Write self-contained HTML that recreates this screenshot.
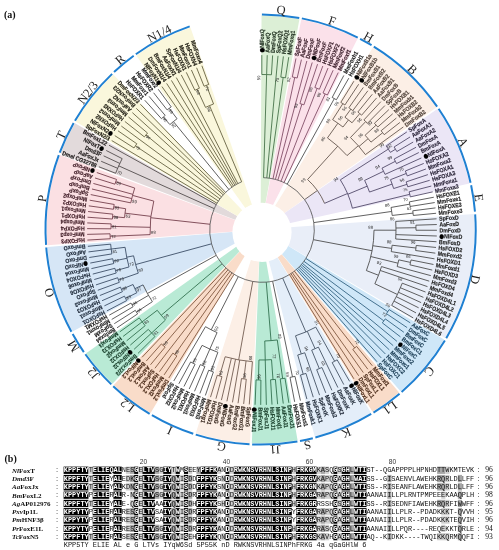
<!DOCTYPE html>
<html><head><meta charset="utf-8"><style>
html,body{margin:0;padding:0;background:#fff;}
body{width:499px;height:550px;overflow:hidden;}
svg{display:block;}
.lab text{font-family:"Liberation Sans",sans-serif;font-size:6.0px;font-weight:bold;stroke-width:0.16px;}
.cl{font-family:"Liberation Serif",serif;font-size:12.5px;fill:#222;}
.dot{font-size:1.05em;font-family:"DejaVu Sans",sans-serif;fill:#000;stroke:#000;}
.pl{font-family:"Liberation Serif",serif;font-size:10px;font-weight:bold;fill:#111;}
.seq{font-family:"Liberation Mono",monospace;font-size:6.9px;font-weight:bold;}
.sq2{font-family:"Liberation Serif",serif;font-size:7.6px;fill:#111;}
.cons{font-family:"Liberation Mono",monospace;font-size:6.9px;fill:#111;}
.nm{font-family:"Liberation Serif",serif;font-size:7.0px;font-weight:bold;fill:#111;}
.ruler{font-family:"Liberation Sans",sans-serif;font-size:6.6px;fill:#333;}
.bs{font-family:"Liberation Sans",sans-serif;font-size:4.2px;fill:#222;}
</style></head><body>
<svg width="499" height="550" viewBox="0 0 499 550">
<rect width="499" height="550" fill="#fff"/>
<g class="tree">
<path d="M261.53,15.60 A213.9,213.9 0 0 1 299.40,19.15 L265.32,203.93 A26.0,26.0 0 0 0 260.71,203.50 Z" fill="#dcefd6"/>
<path d="M301.23,19.49 A213.9,213.9 0 0 1 357.54,38.83 L272.38,206.32 A26.0,26.0 0 0 0 265.54,203.97 Z" fill="#fbe1ea"/>
<path d="M372.84,47.41 A213.9,213.9 0 0 1 436.35,107.58 L281.96,214.68 A26.0,26.0 0 0 0 274.24,207.37 Z" fill="#fcefe6"/>
<path d="M437.41,109.12 A213.9,213.9 0 0 1 469.47,183.39 L285.99,223.89 A26.0,26.0 0 0 0 282.09,214.87 Z" fill="#ebe6f6"/>
<path d="M473.94,214.02 A213.9,213.9 0 0 1 445.00,337.90 L283.01,242.68 A26.0,26.0 0 0 0 286.53,227.62 Z" fill="#e9eef8"/>
<path d="M444.04,339.51 A213.9,213.9 0 0 1 400.51,391.30 L277.61,249.17 A26.0,26.0 0 0 0 282.90,242.87 Z" fill="#cfe7f8"/>
<path d="M399.09,392.51 A213.9,213.9 0 0 1 372.52,411.78 L274.20,251.66 A26.0,26.0 0 0 0 277.43,249.31 Z" fill="#f9dcc9"/>
<path d="M370.93,412.75 A213.9,213.9 0 0 1 314.70,436.45 L267.18,254.65 A26.0,26.0 0 0 0 274.01,251.77 Z" fill="#e4eef9"/>
<path d="M297.56,440.18 A213.9,213.9 0 0 1 251.83,443.22 L259.53,255.48 A26.0,26.0 0 0 0 265.09,255.11 Z" fill="#b9ead5"/>
<path d="M249.96,443.14 A213.9,213.9 0 0 1 195.75,433.33 L252.72,254.28 A26.0,26.0 0 0 0 259.31,255.47 Z" fill="#fcefe6"/>
<path d="M150.59,412.94 A213.9,213.9 0 0 1 113.77,385.04 L242.75,248.41 A26.0,26.0 0 0 0 247.23,251.80 Z" fill="#f9dcc9"/>
<path d="M112.42,383.76 A213.9,213.9 0 0 1 86.14,353.26 L239.39,244.54 A26.0,26.0 0 0 0 242.59,248.25 Z" fill="#b9ead5"/>
<path d="M72.62,331.56 A213.9,213.9 0 0 1 47.42,247.03 L234.69,231.63 A26.0,26.0 0 0 0 237.75,241.91 Z" fill="#d6e6f6"/>
<path d="M47.27,245.17 A213.9,213.9 0 0 1 60.05,155.12 L236.22,220.46 A26.0,26.0 0 0 0 234.67,231.40 Z" fill="#fbe0e3"/>
<path d="M60.71,153.37 A213.9,213.9 0 0 1 74.89,123.36 L238.03,216.60 A26.0,26.0 0 0 0 236.30,220.25 Z" fill="#e2dadb"/>
<path d="M75.83,121.74 A213.9,213.9 0 0 1 113.23,74.47 L242.69,210.66 A26.0,26.0 0 0 0 238.14,216.40 Z" fill="#faf7dc"/>
<path d="M136.24,55.47 A213.9,213.9 0 0 1 190.43,27.44 L252.07,204.94 A26.0,26.0 0 0 0 245.48,208.35 Z" fill="#faf7dc"/>
<circle cx="262" cy="232.3" r="29.6" fill="#fff"/>
<path d="M263.56,177.72 A52.3,52.3 0 0 1 266.79,177.92" fill="none" stroke="#555" stroke-width="0.85"/>
<path d="M266.79,177.92 A52.3,52.3 0 0 1 269.19,178.20" fill="none" stroke="#555" stroke-width="0.85"/>
<path d="M269.19,178.20 A52.3,52.3 0 0 1 272.98,178.86" fill="none" stroke="#555" stroke-width="0.85"/>
<path d="M272.98,178.86 A52.3,52.3 0 0 1 275.41,179.45" fill="none" stroke="#555" stroke-width="0.85"/>
<path d="M275.41,179.45 A52.3,52.3 0 0 1 277.82,180.15" fill="none" stroke="#555" stroke-width="0.85"/>
<path d="M277.82,180.15 A52.3,52.3 0 0 1 280.97,181.26" fill="none" stroke="#555" stroke-width="0.85"/>
<path d="M280.97,181.26 A52.3,52.3 0 0 1 284.04,182.57" fill="none" stroke="#555" stroke-width="0.85"/>
<path d="M284.04,182.57 A52.3,52.3 0 0 1 287.22,184.18" fill="none" stroke="#555" stroke-width="0.85"/>
<path d="M287.22,184.18 A52.3,52.3 0 0 1 304.58,199.63" fill="none" stroke="#555" stroke-width="0.85"/>
<path d="M304.58,199.63 A52.3,52.3 0 0 1 313.77,222.59" fill="none" stroke="#555" stroke-width="0.85"/>
<path d="M313.77,222.59 A52.3,52.3 0 0 1 313.40,239.68" fill="none" stroke="#555" stroke-width="0.85"/>
<path d="M313.40,239.68 A52.3,52.3 0 0 1 305.87,258.47" fill="none" stroke="#555" stroke-width="0.85"/>
<path d="M305.87,258.47 A52.3,52.3 0 0 1 303.92,261.27" fill="none" stroke="#555" stroke-width="0.85"/>
<path d="M303.92,261.27 A52.3,52.3 0 0 1 302.34,263.29" fill="none" stroke="#555" stroke-width="0.85"/>
<path d="M302.34,263.29 A52.3,52.3 0 0 1 301.23,264.59" fill="none" stroke="#555" stroke-width="0.85"/>
<path d="M301.23,264.59 A52.3,52.3 0 0 1 300.08,265.85" fill="none" stroke="#555" stroke-width="0.85"/>
<path d="M300.08,265.85 A52.3,52.3 0 0 1 298.89,267.07" fill="none" stroke="#555" stroke-width="0.85"/>
<path d="M298.89,267.07 A52.3,52.3 0 0 1 297.66,268.26" fill="none" stroke="#555" stroke-width="0.85"/>
<path d="M297.66,268.26 A52.3,52.3 0 0 1 296.39,269.40" fill="none" stroke="#555" stroke-width="0.85"/>
<path d="M296.39,269.40 A52.3,52.3 0 0 1 294.32,271.11" fill="none" stroke="#555" stroke-width="0.85"/>
<path d="M294.32,271.11 A52.3,52.3 0 0 1 292.30,272.63" fill="none" stroke="#555" stroke-width="0.85"/>
<path d="M292.30,272.63 A52.3,52.3 0 0 1 290.90,273.59" fill="none" stroke="#555" stroke-width="0.85"/>
<path d="M290.90,273.59 A52.3,52.3 0 0 1 289.48,274.50" fill="none" stroke="#555" stroke-width="0.85"/>
<path d="M289.48,274.50 A52.3,52.3 0 0 1 282.67,278.04" fill="none" stroke="#555" stroke-width="0.85"/>
<path d="M282.67,278.04 A52.3,52.3 0 0 1 272.63,281.21" fill="none" stroke="#555" stroke-width="0.85"/>
<path d="M272.63,281.21 A52.3,52.3 0 0 1 266.26,282.13" fill="none" stroke="#555" stroke-width="0.85"/>
<path d="M266.26,282.13 A52.3,52.3 0 0 1 252.75,281.48" fill="none" stroke="#555" stroke-width="0.85"/>
<path d="M252.75,281.48 A52.3,52.3 0 0 1 238.28,276.61" fill="none" stroke="#555" stroke-width="0.85"/>
<path d="M238.28,276.61 A52.3,52.3 0 0 1 234.13,274.26" fill="none" stroke="#555" stroke-width="0.85"/>
<path d="M234.13,274.26 A52.3,52.3 0 0 1 232.02,272.85" fill="none" stroke="#555" stroke-width="0.85"/>
<path d="M232.02,272.85 A52.3,52.3 0 0 1 229.98,271.35" fill="none" stroke="#555" stroke-width="0.85"/>
<path d="M229.98,271.35 A52.3,52.3 0 0 1 228.02,269.75" fill="none" stroke="#555" stroke-width="0.85"/>
<path d="M228.02,269.75 A52.3,52.3 0 0 1 226.13,268.06" fill="none" stroke="#555" stroke-width="0.85"/>
<path d="M226.13,268.06 A52.3,52.3 0 0 1 222.07,263.78" fill="none" stroke="#555" stroke-width="0.85"/>
<path d="M222.07,263.78 A52.3,52.3 0 0 1 216.25,255.34" fill="none" stroke="#555" stroke-width="0.85"/>
<path d="M216.25,255.34 A52.3,52.3 0 0 1 211.55,243.80" fill="none" stroke="#555" stroke-width="0.85"/>
<path d="M211.55,243.80 A52.3,52.3 0 0 1 210.02,224.26" fill="none" stroke="#555" stroke-width="0.85"/>
<path d="M210.02,224.26 A52.3,52.3 0 0 1 214.26,208.63" fill="none" stroke="#555" stroke-width="0.85"/>
<path d="M214.26,208.63 A52.3,52.3 0 0 1 216.25,204.65" fill="none" stroke="#555" stroke-width="0.85"/>
<path d="M216.25,204.65 A52.3,52.3 0 0 1 217.06,203.25" fill="none" stroke="#555" stroke-width="0.85"/>
<path d="M217.06,203.25 A52.3,52.3 0 0 1 218.44,201.05" fill="none" stroke="#555" stroke-width="0.85"/>
<path d="M218.44,201.05 A52.3,52.3 0 0 1 219.94,198.92" fill="none" stroke="#555" stroke-width="0.85"/>
<path d="M219.94,198.92 A52.3,52.3 0 0 1 221.53,196.87" fill="none" stroke="#555" stroke-width="0.85"/>
<path d="M221.53,196.87 A52.3,52.3 0 0 1 223.23,194.90" fill="none" stroke="#555" stroke-width="0.85"/>
<path d="M223.23,194.90 A52.3,52.3 0 0 1 224.42,193.63" fill="none" stroke="#555" stroke-width="0.85"/>
<path d="M224.42,193.63 A52.3,52.3 0 0 1 225.64,192.40" fill="none" stroke="#555" stroke-width="0.85"/>
<path d="M225.64,192.40 A52.3,52.3 0 0 1 228.91,189.50" fill="none" stroke="#555" stroke-width="0.85"/>
<path d="M228.91,189.50 A52.3,52.3 0 0 1 232.08,187.11" fill="none" stroke="#555" stroke-width="0.85"/>
<path d="M232.08,187.11 A52.3,52.3 0 0 1 233.48,186.16" fill="none" stroke="#555" stroke-width="0.85"/>
<path d="M233.48,186.16 A52.3,52.3 0 0 1 234.91,185.26" fill="none" stroke="#555" stroke-width="0.85"/>
<path d="M234.91,185.26 A52.3,52.3 0 0 1 236.37,184.41" fill="none" stroke="#555" stroke-width="0.85"/>
<path d="M236.37,184.41 A52.3,52.3 0 0 1 237.85,183.61" fill="none" stroke="#555" stroke-width="0.85"/>
<path d="M237.85,183.61 A52.3,52.3 0 0 1 241.67,181.81" fill="none" stroke="#555" stroke-width="0.85"/>
<line x1="263.56" y1="177.72" x2="266.64" y2="74.57" stroke="#3f6b42" stroke-width="0.85"/>
<path d="M261.84,74.50 A155.5,155.5 0 0 1 271.44,74.79" fill="none" stroke="#3f6b42" stroke-width="0.85"/>
<line x1="261.84" y1="74.50" x2="261.82" y2="55.10" stroke="#3f6b42" stroke-width="0.85"/>
<line x1="266.64" y1="74.57" x2="267.22" y2="55.18" stroke="#3f6b42" stroke-width="0.85"/>
<line x1="271.44" y1="74.79" x2="272.62" y2="55.42" stroke="#3f6b42" stroke-width="0.85"/>
<line x1="266.79" y1="177.92" x2="278.00" y2="55.83" stroke="#3f6b42" stroke-width="0.85"/>
<line x1="269.19" y1="178.20" x2="283.18" y2="77.46" stroke="#3f6b42" stroke-width="0.85"/>
<path d="M280.82,77.15 A154,154 0 0 1 285.53,77.81" fill="none" stroke="#3f6b42" stroke-width="0.85"/>
<line x1="280.82" y1="77.15" x2="283.38" y2="56.41" stroke="#3f6b42" stroke-width="0.85"/>
<line x1="285.53" y1="77.81" x2="288.73" y2="57.15" stroke="#3f6b42" stroke-width="0.85"/>
<line x1="272.98" y1="178.86" x2="294.74" y2="77.47" stroke="#7b4660" stroke-width="0.85"/>
<path d="M292.30,76.97 A156,156 0 0 1 297.17,78.02" fill="none" stroke="#7b4660" stroke-width="0.85"/>
<line x1="292.30" y1="76.97" x2="295.97" y2="58.43" stroke="#7b4660" stroke-width="0.85"/>
<line x1="297.17" y1="78.02" x2="301.43" y2="59.60" stroke="#7b4660" stroke-width="0.85"/>
<line x1="275.41" y1="179.45" x2="306.85" y2="60.95" stroke="#7b4660" stroke-width="0.85"/>
<line x1="277.82" y1="180.15" x2="301.92" y2="104.18" stroke="#7b4660" stroke-width="0.85"/>
<path d="M299.91,103.56 A132,132 0 0 1 303.93,104.84" fill="none" stroke="#7b4660" stroke-width="0.85"/>
<line x1="299.91" y1="103.56" x2="312.23" y2="62.47" stroke="#7b4660" stroke-width="0.85"/>
<line x1="303.93" y1="104.84" x2="317.55" y2="64.16" stroke="#7b4660" stroke-width="0.85"/>
<line x1="280.97" y1="181.26" x2="317.13" y2="88.35" stroke="#7b4660" stroke-width="0.85"/>
<path d="M314.86,87.49 A152,152 0 0 1 319.38,89.25" fill="none" stroke="#7b4660" stroke-width="0.85"/>
<line x1="314.86" y1="87.49" x2="322.82" y2="66.02" stroke="#7b4660" stroke-width="0.85"/>
<line x1="319.38" y1="89.25" x2="328.03" y2="68.04" stroke="#7b4660" stroke-width="0.85"/>
<line x1="284.04" y1="182.57" x2="325.21" y2="93.97" stroke="#7b4660" stroke-width="0.85"/>
<path d="M323.03,92.98 A150,150 0 0 1 327.38,95.00" fill="none" stroke="#7b4660" stroke-width="0.85"/>
<line x1="323.03" y1="92.98" x2="333.17" y2="70.23" stroke="#7b4660" stroke-width="0.85"/>
<line x1="327.38" y1="95.00" x2="338.23" y2="72.59" stroke="#7b4660" stroke-width="0.85"/>
<line x1="287.22" y1="184.18" x2="334.32" y2="98.59" stroke="#444" stroke-width="0.85"/>
<path d="M332.19,97.44 A150,150 0 0 1 336.43,99.77" fill="none" stroke="#444" stroke-width="0.85"/>
<line x1="332.19" y1="97.44" x2="343.84" y2="75.43" stroke="#444" stroke-width="0.85"/>
<line x1="336.43" y1="99.77" x2="348.79" y2="78.15" stroke="#444" stroke-width="0.85"/>
<line x1="304.58" y1="199.63" x2="317.36" y2="190.51" stroke="#5e5048" stroke-width="0.85"/>
<path d="M307.59,179.55 A68,68 0 0 1 324.55,203.32" fill="none" stroke="#5e5048" stroke-width="0.85"/>
<line x1="307.59" y1="179.55" x2="337.77" y2="146.16" stroke="#5e5048" stroke-width="0.85"/>
<path d="M327.46,137.89 A113,113 0 0 1 347.04,155.59" fill="none" stroke="#5e5048" stroke-width="0.85"/>
<line x1="327.46" y1="137.89" x2="337.89" y2="123.22" stroke="#5e5048" stroke-width="0.85"/>
<path d="M332.63,119.67 A131,131 0 0 1 342.97,127.02" fill="none" stroke="#5e5048" stroke-width="0.85"/>
<line x1="332.63" y1="119.67" x2="342.87" y2="103.67" stroke="#5e5048" stroke-width="0.85"/>
<path d="M340.82,102.38 A150,150 0 0 1 344.90,104.99" fill="none" stroke="#5e5048" stroke-width="0.85"/>
<line x1="340.82" y1="102.38" x2="353.90" y2="81.19" stroke="#5e5048" stroke-width="0.85"/>
<line x1="344.90" y1="104.99" x2="358.66" y2="84.24" stroke="#5e5048" stroke-width="0.85"/>
<line x1="342.97" y1="127.02" x2="348.53" y2="119.94" stroke="#5e5048" stroke-width="0.85"/>
<path d="M344.93,117.21 A140,140 0 0 1 352.04,122.79" fill="none" stroke="#5e5048" stroke-width="0.85"/>
<line x1="344.93" y1="117.21" x2="350.85" y2="109.15" stroke="#5e5048" stroke-width="0.85"/>
<path d="M348.89,107.73 A150,150 0 0 1 352.79,110.60" fill="none" stroke="#5e5048" stroke-width="0.85"/>
<line x1="348.89" y1="107.73" x2="363.32" y2="87.43" stroke="#5e5048" stroke-width="0.85"/>
<line x1="352.79" y1="110.60" x2="367.87" y2="90.78" stroke="#5e5048" stroke-width="0.85"/>
<line x1="352.04" y1="122.79" x2="359.75" y2="113.60" stroke="#5e5048" stroke-width="0.85"/>
<path d="M357.86,112.04 A152,152 0 0 1 361.62,115.20" fill="none" stroke="#5e5048" stroke-width="0.85"/>
<line x1="357.86" y1="112.04" x2="372.31" y2="94.27" stroke="#5e5048" stroke-width="0.85"/>
<line x1="361.62" y1="115.20" x2="376.63" y2="97.90" stroke="#5e5048" stroke-width="0.85"/>
<line x1="347.04" y1="155.59" x2="358.33" y2="145.71" stroke="#5e5048" stroke-width="0.85"/>
<path d="M350.47,137.50 A128,128 0 0 1 365.42,154.58" fill="none" stroke="#5e5048" stroke-width="0.85"/>
<line x1="350.47" y1="137.50" x2="365.68" y2="121.60" stroke="#5e5048" stroke-width="0.85"/>
<path d="M363.92,119.94 A150,150 0 0 1 367.42,123.29" fill="none" stroke="#5e5048" stroke-width="0.85"/>
<line x1="363.92" y1="119.94" x2="380.83" y2="101.67" stroke="#5e5048" stroke-width="0.85"/>
<line x1="367.42" y1="123.29" x2="384.92" y2="105.57" stroke="#5e5048" stroke-width="0.85"/>
<line x1="359.00" y1="146.49" x2="368.10" y2="138.66" stroke="#5e5048" stroke-width="0.85"/>
<path d="M365.09,135.28 A140,140 0 0 1 370.99,142.13" fill="none" stroke="#5e5048" stroke-width="0.85"/>
<line x1="365.09" y1="135.28" x2="376.14" y2="125.13" stroke="#5e5048" stroke-width="0.85"/>
<path d="M374.43,123.31 A155,155 0 0 1 377.82,126.99" fill="none" stroke="#5e5048" stroke-width="0.85"/>
<line x1="374.43" y1="123.31" x2="388.87" y2="109.61" stroke="#5e5048" stroke-width="0.85"/>
<line x1="377.82" y1="126.99" x2="392.69" y2="113.77" stroke="#5e5048" stroke-width="0.85"/>
<line x1="370.99" y1="142.13" x2="382.67" y2="132.72" stroke="#5e5048" stroke-width="0.85"/>
<path d="M381.08,130.78 A155,155 0 0 1 384.22,134.68" fill="none" stroke="#5e5048" stroke-width="0.85"/>
<line x1="381.08" y1="130.78" x2="396.37" y2="118.04" stroke="#5e5048" stroke-width="0.85"/>
<line x1="384.22" y1="134.68" x2="399.92" y2="122.44" stroke="#5e5048" stroke-width="0.85"/>
<line x1="365.42" y1="154.58" x2="403.32" y2="126.95" stroke="#5e5048" stroke-width="0.85"/>
<line x1="324.55" y1="203.32" x2="347.54" y2="193.51" stroke="#4a4262" stroke-width="0.85"/>
<path d="M340.32,179.85 A93,93 0 0 1 352.40,208.18" fill="none" stroke="#4a4262" stroke-width="0.85"/>
<line x1="340.32" y1="179.85" x2="388.32" y2="149.11" stroke="#4a4262" stroke-width="0.85"/>
<path d="M386.21,145.90 A150,150 0 0 1 390.35,152.37" fill="none" stroke="#4a4262" stroke-width="0.85"/>
<line x1="386.21" y1="145.90" x2="406.83" y2="131.94" stroke="#4a4262" stroke-width="0.85"/>
<line x1="390.35" y1="152.37" x2="395.48" y2="149.26" stroke="#4a4262" stroke-width="0.85"/>
<path d="M394.09,147.00 A156,156 0 0 1 396.84,151.55" fill="none" stroke="#4a4262" stroke-width="0.85"/>
<line x1="394.09" y1="147.00" x2="410.09" y2="136.94" stroke="#4a4262" stroke-width="0.85"/>
<line x1="396.84" y1="151.55" x2="413.18" y2="142.05" stroke="#4a4262" stroke-width="0.85"/>
<line x1="347.85" y1="194.24" x2="367.23" y2="186.16" stroke="#4a4262" stroke-width="0.85"/>
<path d="M364.64,180.40 A114,114 0 0 1 369.50,192.06" fill="none" stroke="#4a4262" stroke-width="0.85"/>
<line x1="364.64" y1="180.40" x2="383.55" y2="171.26" stroke="#4a4262" stroke-width="0.85"/>
<path d="M382.01,168.17 A135,135 0 0 1 385.02,174.39" fill="none" stroke="#4a4262" stroke-width="0.85"/>
<line x1="382.01" y1="168.17" x2="395.34" y2="161.30" stroke="#4a4262" stroke-width="0.85"/>
<path d="M394.15,159.04 A150,150 0 0 1 396.50,163.59" fill="none" stroke="#4a4262" stroke-width="0.85"/>
<line x1="394.15" y1="159.04" x2="416.09" y2="147.26" stroke="#4a4262" stroke-width="0.85"/>
<line x1="396.50" y1="163.59" x2="418.82" y2="152.56" stroke="#4a4262" stroke-width="0.85"/>
<line x1="385.02" y1="174.39" x2="421.37" y2="157.96" stroke="#4a4262" stroke-width="0.85"/>
<line x1="369.50" y1="192.06" x2="392.13" y2="184.08" stroke="#4a4262" stroke-width="0.85"/>
<path d="M390.49,179.66 A138,138 0 0 1 393.63,188.54" fill="none" stroke="#4a4262" stroke-width="0.85"/>
<line x1="390.49" y1="179.66" x2="406.32" y2="173.46" stroke="#4a4262" stroke-width="0.85"/>
<path d="M405.34,171.01 A155,155 0 0 1 407.26,175.93" fill="none" stroke="#4a4262" stroke-width="0.85"/>
<line x1="405.34" y1="171.01" x2="423.74" y2="163.44" stroke="#4a4262" stroke-width="0.85"/>
<line x1="407.26" y1="175.93" x2="425.91" y2="168.99" stroke="#4a4262" stroke-width="0.85"/>
<line x1="393.63" y1="188.54" x2="406.98" y2="184.34" stroke="#4a4262" stroke-width="0.85"/>
<path d="M406.18,181.87 A152,152 0 0 1 407.74,186.82" fill="none" stroke="#4a4262" stroke-width="0.85"/>
<line x1="406.18" y1="181.87" x2="427.90" y2="174.62" stroke="#4a4262" stroke-width="0.85"/>
<line x1="407.74" y1="186.82" x2="429.69" y2="180.31" stroke="#4a4262" stroke-width="0.85"/>
<line x1="352.40" y1="208.18" x2="409.76" y2="194.33" stroke="#4a4262" stroke-width="0.85"/>
<path d="M409.13,191.81 A152,152 0 0 1 410.34,196.86" fill="none" stroke="#4a4262" stroke-width="0.85"/>
<line x1="409.13" y1="191.81" x2="431.29" y2="186.06" stroke="#4a4262" stroke-width="0.85"/>
<line x1="410.34" y1="196.86" x2="432.69" y2="191.86" stroke="#4a4262" stroke-width="0.85"/>
<line x1="313.77" y1="222.59" x2="391.68" y2="211.44" stroke="#444" stroke-width="0.85"/>
<path d="M391.04,207.44 A131,131 0 0 1 392.19,215.45" fill="none" stroke="#444" stroke-width="0.85"/>
<line x1="391.04" y1="207.44" x2="409.76" y2="204.17" stroke="#444" stroke-width="0.85"/>
<path d="M409.34,201.89 A150,150 0 0 1 410.14,206.46" fill="none" stroke="#444" stroke-width="0.85"/>
<line x1="409.34" y1="201.89" x2="433.80" y2="197.23" stroke="#444" stroke-width="0.85"/>
<line x1="410.14" y1="206.46" x2="434.73" y2="202.55" stroke="#444" stroke-width="0.85"/>
<line x1="392.19" y1="215.45" x2="413.06" y2="213.12" stroke="#444" stroke-width="0.85"/>
<path d="M412.78,210.79 A152,152 0 0 1 413.30,215.46" fill="none" stroke="#444" stroke-width="0.85"/>
<line x1="412.78" y1="210.79" x2="435.50" y2="207.90" stroke="#444" stroke-width="0.85"/>
<line x1="413.30" y1="215.46" x2="436.10" y2="213.27" stroke="#444" stroke-width="0.85"/>
<line x1="313.40" y1="239.68" x2="372.07" y2="250.73" stroke="#444" stroke-width="0.85"/>
<path d="M374.00,230.18 A112,112 0 0 1 366.39,270.57" fill="none" stroke="#444" stroke-width="0.85"/>
<line x1="374.00" y1="230.18" x2="396.00" y2="230.21" stroke="#444" stroke-width="0.85"/>
<path d="M395.73,221.42 A134,134 0 0 1 395.70,239.00" fill="none" stroke="#444" stroke-width="0.85"/>
<line x1="395.73" y1="221.42" x2="436.54" y2="218.80" stroke="#444" stroke-width="0.85"/>
<line x1="395.99" y1="228.01" x2="415.98" y2="227.72" stroke="#444" stroke-width="0.85"/>
<path d="M415.92,225.19 A154,154 0 0 1 416.00,230.24" fill="none" stroke="#444" stroke-width="0.85"/>
<line x1="415.92" y1="225.19" x2="436.81" y2="224.54" stroke="#444" stroke-width="0.85"/>
<line x1="416.00" y1="230.24" x2="436.90" y2="230.27" stroke="#444" stroke-width="0.85"/>
<line x1="395.92" y1="234.61" x2="436.80" y2="236.01" stroke="#444" stroke-width="0.85"/>
<line x1="395.70" y1="239.00" x2="436.51" y2="241.74" stroke="#444" stroke-width="0.85"/>
<line x1="372.89" y1="245.74" x2="391.70" y2="248.41" stroke="#444" stroke-width="0.85"/>
<path d="M392.11,245.22 A131,131 0 0 1 391.21,251.60" fill="none" stroke="#444" stroke-width="0.85"/>
<line x1="392.11" y1="245.22" x2="415.95" y2="248.00" stroke="#444" stroke-width="0.85"/>
<path d="M416.23,245.48 A155,155 0 0 1 415.63,250.53" fill="none" stroke="#444" stroke-width="0.85"/>
<line x1="416.23" y1="245.48" x2="436.03" y2="247.46" stroke="#444" stroke-width="0.85"/>
<line x1="415.63" y1="250.53" x2="435.36" y2="253.16" stroke="#444" stroke-width="0.85"/>
<line x1="391.21" y1="251.60" x2="434.51" y2="258.84" stroke="#444" stroke-width="0.85"/>
<line x1="370.80" y1="256.56" x2="398.01" y2="263.20" stroke="#444" stroke-width="0.85"/>
<path d="M398.78,259.85 A140,140 0 0 1 397.15,266.54" fill="none" stroke="#444" stroke-width="0.85"/>
<line x1="398.78" y1="259.85" x2="410.51" y2="262.41" stroke="#444" stroke-width="0.85"/>
<path d="M411.02,259.97 A152,152 0 0 1 409.95,264.84" fill="none" stroke="#444" stroke-width="0.85"/>
<line x1="411.02" y1="259.97" x2="433.47" y2="264.48" stroke="#444" stroke-width="0.85"/>
<line x1="409.95" y1="264.84" x2="432.24" y2="270.09" stroke="#444" stroke-width="0.85"/>
<line x1="397.15" y1="266.54" x2="430.84" y2="275.65" stroke="#444" stroke-width="0.85"/>
<line x1="366.39" y1="270.57" x2="378.51" y2="275.28" stroke="#444" stroke-width="0.85"/>
<path d="M381.53,266.57 A125,125 0 0 1 374.85,283.75" fill="none" stroke="#444" stroke-width="0.85"/>
<line x1="381.53" y1="266.57" x2="429.25" y2="281.17" stroke="#444" stroke-width="0.85"/>
<line x1="380.27" y1="270.47" x2="427.48" y2="286.62" stroke="#444" stroke-width="0.85"/>
<line x1="374.85" y1="283.75" x2="397.42" y2="294.51" stroke="#444" stroke-width="0.85"/>
<path d="M402.25,283.19 A150,150 0 0 1 391.68,305.39" fill="none" stroke="#444" stroke-width="0.85"/>
<line x1="402.25" y1="283.19" x2="425.53" y2="292.02" stroke="#444" stroke-width="0.85"/>
<line x1="400.43" y1="287.77" x2="423.41" y2="297.35" stroke="#444" stroke-width="0.85"/>
<line x1="398.46" y1="292.28" x2="421.11" y2="302.61" stroke="#444" stroke-width="0.85"/>
<line x1="396.35" y1="296.72" x2="418.65" y2="307.79" stroke="#444" stroke-width="0.85"/>
<line x1="394.08" y1="301.09" x2="416.01" y2="312.89" stroke="#444" stroke-width="0.85"/>
<line x1="391.68" y1="305.39" x2="413.21" y2="317.90" stroke="#444" stroke-width="0.85"/>
<line x1="305.87" y1="258.47" x2="387.82" y2="311.66" stroke="#2c5c7c" stroke-width="0.85"/>
<path d="M389.14,309.60 A150,150 0 0 1 386.47,313.71" fill="none" stroke="#2c5c7c" stroke-width="0.85"/>
<line x1="389.14" y1="309.60" x2="410.24" y2="322.81" stroke="#2c5c7c" stroke-width="0.85"/>
<line x1="386.47" y1="313.71" x2="407.14" y2="327.60" stroke="#2c5c7c" stroke-width="0.85"/>
<line x1="303.92" y1="261.27" x2="383.83" y2="320.89" stroke="#2c5c7c" stroke-width="0.85"/>
<path d="M385.30,318.89 A152,152 0 0 1 382.33,322.87" fill="none" stroke="#2c5c7c" stroke-width="0.85"/>
<line x1="385.30" y1="318.89" x2="403.87" y2="332.28" stroke="#2c5c7c" stroke-width="0.85"/>
<line x1="382.33" y1="322.87" x2="400.46" y2="336.86" stroke="#2c5c7c" stroke-width="0.85"/>
<line x1="302.34" y1="263.29" x2="396.90" y2="341.32" stroke="#2c5c7c" stroke-width="0.85"/>
<line x1="301.23" y1="264.59" x2="393.19" y2="345.66" stroke="#2c5c7c" stroke-width="0.85"/>
<line x1="300.08" y1="265.85" x2="389.35" y2="349.88" stroke="#2c5c7c" stroke-width="0.85"/>
<line x1="298.89" y1="267.07" x2="385.37" y2="353.97" stroke="#2c5c7c" stroke-width="0.85"/>
<line x1="297.66" y1="268.26" x2="381.26" y2="357.93" stroke="#2c5c7c" stroke-width="0.85"/>
<line x1="296.39" y1="269.40" x2="377.02" y2="361.76" stroke="#2c5c7c" stroke-width="0.85"/>
<line x1="294.32" y1="271.11" x2="354.71" y2="347.92" stroke="#7a5038" stroke-width="0.85"/>
<path d="M356.60,346.41 A150,150 0 0 1 352.79,349.40" fill="none" stroke="#7a5038" stroke-width="0.85"/>
<line x1="356.60" y1="346.41" x2="372.31" y2="365.73" stroke="#7a5038" stroke-width="0.85"/>
<line x1="352.79" y1="349.40" x2="367.87" y2="369.22" stroke="#7a5038" stroke-width="0.85"/>
<line x1="292.30" y1="272.63" x2="363.32" y2="372.57" stroke="#7a5038" stroke-width="0.85"/>
<line x1="290.90" y1="273.59" x2="358.66" y2="375.76" stroke="#7a5038" stroke-width="0.85"/>
<line x1="289.48" y1="274.50" x2="353.90" y2="378.81" stroke="#7a5038" stroke-width="0.85"/>
<line x1="282.67" y1="278.04" x2="305.87" y2="331.96" stroke="#3c4a5c" stroke-width="0.85"/>
<path d="M315.77,327.11 A111,111 0 0 1 295.53,335.81" fill="none" stroke="#3c4a5c" stroke-width="0.85"/>
<line x1="315.77" y1="327.11" x2="334.66" y2="361.22" stroke="#3c4a5c" stroke-width="0.85"/>
<path d="M337.14,359.83 A150,150 0 0 1 332.17,362.58" fill="none" stroke="#3c4a5c" stroke-width="0.85"/>
<line x1="337.14" y1="359.83" x2="349.61" y2="381.38" stroke="#3c4a5c" stroke-width="0.85"/>
<line x1="332.17" y1="362.58" x2="343.81" y2="384.58" stroke="#3c4a5c" stroke-width="0.85"/>
<line x1="307.31" y1="331.33" x2="315.07" y2="348.68" stroke="#3c4a5c" stroke-width="0.85"/>
<path d="M318.42,347.12 A130,130 0 0 1 311.68,350.13" fill="none" stroke="#3c4a5c" stroke-width="0.85"/>
<line x1="318.42" y1="347.12" x2="337.90" y2="387.57" stroke="#3c4a5c" stroke-width="0.85"/>
<line x1="311.68" y1="350.13" x2="319.32" y2="368.62" stroke="#3c4a5c" stroke-width="0.85"/>
<path d="M321.93,367.51 A150,150 0 0 1 316.68,369.68" fill="none" stroke="#3c4a5c" stroke-width="0.85"/>
<line x1="321.93" y1="367.51" x2="331.88" y2="390.33" stroke="#3c4a5c" stroke-width="0.85"/>
<line x1="316.68" y1="369.68" x2="325.76" y2="392.86" stroke="#3c4a5c" stroke-width="0.85"/>
<line x1="295.53" y1="335.81" x2="301.27" y2="353.93" stroke="#3c4a5c" stroke-width="0.85"/>
<path d="M304.77,352.76 A130,130 0 0 1 297.73,354.99" fill="none" stroke="#3c4a5c" stroke-width="0.85"/>
<line x1="304.77" y1="352.76" x2="319.55" y2="395.16" stroke="#3c4a5c" stroke-width="0.85"/>
<line x1="297.73" y1="354.99" x2="303.23" y2="374.22" stroke="#3c4a5c" stroke-width="0.85"/>
<path d="M305.96,373.42 A150,150 0 0 1 300.49,374.98" fill="none" stroke="#3c4a5c" stroke-width="0.85"/>
<line x1="305.96" y1="373.42" x2="313.25" y2="397.22" stroke="#3c4a5c" stroke-width="0.85"/>
<line x1="300.49" y1="374.98" x2="306.88" y2="399.04" stroke="#3c4a5c" stroke-width="0.85"/>
<line x1="272.63" y1="281.21" x2="292.49" y2="376.87" stroke="#444" stroke-width="0.85"/>
<path d="M294.98,376.33 A150,150 0 0 1 290.00,377.36" fill="none" stroke="#444" stroke-width="0.85"/>
<line x1="294.98" y1="376.33" x2="300.45" y2="400.62" stroke="#444" stroke-width="0.85"/>
<line x1="290.00" y1="377.36" x2="294.65" y2="401.82" stroke="#444" stroke-width="0.85"/>
<line x1="266.26" y1="282.13" x2="271.03" y2="340.63" stroke="#2a6a48" stroke-width="0.85"/>
<path d="M277.27,339.95 A111,111 0 0 1 264.77,340.97" fill="none" stroke="#2a6a48" stroke-width="0.85"/>
<line x1="277.27" y1="339.95" x2="282.63" y2="378.57" stroke="#2a6a48" stroke-width="0.85"/>
<path d="M285.03,378.22 A150,150 0 0 1 280.23,378.89" fill="none" stroke="#2a6a48" stroke-width="0.85"/>
<line x1="285.03" y1="378.22" x2="288.85" y2="402.83" stroke="#2a6a48" stroke-width="0.85"/>
<line x1="280.23" y1="378.89" x2="283.25" y2="403.60" stroke="#2a6a48" stroke-width="0.85"/>
<line x1="264.77" y1="340.97" x2="265.24" y2="359.96" stroke="#2a6a48" stroke-width="0.85"/>
<path d="M271.53,359.65 A130,130 0 0 1 258.95,359.96" fill="none" stroke="#2a6a48" stroke-width="0.85"/>
<line x1="271.53" y1="359.65" x2="273.00" y2="379.60" stroke="#2a6a48" stroke-width="0.85"/>
<path d="M275.41,379.40 A150,150 0 0 1 270.58,379.75" fill="none" stroke="#2a6a48" stroke-width="0.85"/>
<line x1="275.41" y1="379.40" x2="277.64" y2="404.20" stroke="#2a6a48" stroke-width="0.85"/>
<line x1="270.58" y1="379.75" x2="272.01" y2="404.61" stroke="#2a6a48" stroke-width="0.85"/>
<line x1="265.24" y1="359.96" x2="266.36" y2="404.85" stroke="#2a6a48" stroke-width="0.85"/>
<line x1="258.95" y1="359.96" x2="258.48" y2="379.96" stroke="#2a6a48" stroke-width="0.85"/>
<path d="M260.90,380.00 A150,150 0 0 1 256.06,379.88" fill="none" stroke="#2a6a48" stroke-width="0.85"/>
<line x1="260.90" y1="380.00" x2="260.72" y2="404.90" stroke="#2a6a48" stroke-width="0.85"/>
<line x1="256.06" y1="379.88" x2="255.07" y2="404.76" stroke="#2a6a48" stroke-width="0.85"/>
<line x1="252.75" y1="281.48" x2="238.66" y2="359.92" stroke="#6a5448" stroke-width="0.85"/>
<path d="M252.40,361.65 A132,132 0 0 1 225.18,356.76" fill="none" stroke="#6a5448" stroke-width="0.85"/>
<line x1="252.40" y1="361.65" x2="249.28" y2="404.44" stroke="#6a5448" stroke-width="0.85"/>
<line x1="246.04" y1="361.03" x2="243.86" y2="378.90" stroke="#6a5448" stroke-width="0.85"/>
<path d="M246.27,379.17 A150,150 0 0 1 241.46,378.59" fill="none" stroke="#6a5448" stroke-width="0.85"/>
<line x1="246.27" y1="379.17" x2="243.66" y2="403.94" stroke="#6a5448" stroke-width="0.85"/>
<line x1="241.46" y1="378.59" x2="238.05" y2="403.25" stroke="#6a5448" stroke-width="0.85"/>
<line x1="239.71" y1="360.11" x2="232.47" y2="402.39" stroke="#6a5448" stroke-width="0.85"/>
<line x1="235.53" y1="359.32" x2="226.92" y2="401.35" stroke="#6a5448" stroke-width="0.85"/>
<line x1="231.36" y1="358.40" x2="221.41" y2="400.12" stroke="#6a5448" stroke-width="0.85"/>
<line x1="225.18" y1="356.76" x2="219.61" y2="375.97" stroke="#6a5448" stroke-width="0.85"/>
<path d="M221.97,376.63 A152,152 0 0 1 217.26,375.26" fill="none" stroke="#6a5448" stroke-width="0.85"/>
<line x1="221.97" y1="376.63" x2="215.94" y2="398.73" stroke="#6a5448" stroke-width="0.85"/>
<line x1="217.26" y1="375.26" x2="210.51" y2="397.15" stroke="#6a5448" stroke-width="0.85"/>
<line x1="238.28" y1="276.61" x2="211.20" y2="329.81" stroke="#444" stroke-width="0.85"/>
<path d="M217.07,332.59 A112,112 0 0 1 205.49,326.70" fill="none" stroke="#444" stroke-width="0.85"/>
<line x1="217.07" y1="332.59" x2="209.85" y2="349.08" stroke="#444" stroke-width="0.85"/>
<path d="M217.86,352.28 A130,130 0 0 1 202.07,345.36" fill="none" stroke="#444" stroke-width="0.85"/>
<line x1="217.86" y1="352.28" x2="211.07" y2="371.09" stroke="#444" stroke-width="0.85"/>
<path d="M213.41,371.91 A150,150 0 0 1 208.73,370.22" fill="none" stroke="#444" stroke-width="0.85"/>
<line x1="213.41" y1="371.91" x2="205.35" y2="395.47" stroke="#444" stroke-width="0.85"/>
<line x1="208.73" y1="370.22" x2="199.89" y2="393.50" stroke="#444" stroke-width="0.85"/>
<line x1="209.85" y1="349.08" x2="202.63" y2="365.57" stroke="#444" stroke-width="0.85"/>
<path d="M204.89,366.54 A148,148 0 0 1 200.39,364.57" fill="none" stroke="#444" stroke-width="0.85"/>
<line x1="204.89" y1="366.54" x2="194.51" y2="391.35" stroke="#444" stroke-width="0.85"/>
<line x1="200.39" y1="364.57" x2="189.19" y2="389.03" stroke="#444" stroke-width="0.85"/>
<line x1="202.07" y1="345.36" x2="192.85" y2="363.11" stroke="#444" stroke-width="0.85"/>
<path d="M195.07,364.24 A150,150 0 0 1 190.66,361.95" fill="none" stroke="#444" stroke-width="0.85"/>
<line x1="195.07" y1="364.24" x2="183.96" y2="386.52" stroke="#444" stroke-width="0.85"/>
<line x1="190.66" y1="361.95" x2="178.81" y2="383.85" stroke="#444" stroke-width="0.85"/>
<line x1="205.49" y1="326.70" x2="173.76" y2="381.01" stroke="#444" stroke-width="0.85"/>
<line x1="234.13" y1="274.26" x2="168.80" y2="378.00" stroke="#7a5038" stroke-width="0.85"/>
<line x1="232.02" y1="272.85" x2="174.87" y2="354.55" stroke="#7a5038" stroke-width="0.85"/>
<path d="M176.89,355.94 A152,152 0 0 1 172.87,353.13" fill="none" stroke="#7a5038" stroke-width="0.85"/>
<line x1="176.89" y1="355.94" x2="164.07" y2="374.91" stroke="#7a5038" stroke-width="0.85"/>
<line x1="172.87" y1="353.13" x2="159.44" y2="371.68" stroke="#7a5038" stroke-width="0.85"/>
<line x1="229.98" y1="271.35" x2="154.92" y2="368.29" stroke="#7a5038" stroke-width="0.85"/>
<line x1="228.02" y1="269.75" x2="163.23" y2="345.54" stroke="#7a5038" stroke-width="0.85"/>
<path d="M165.11,347.12 A152,152 0 0 1 161.38,343.93" fill="none" stroke="#7a5038" stroke-width="0.85"/>
<line x1="165.11" y1="347.12" x2="150.51" y2="364.76" stroke="#7a5038" stroke-width="0.85"/>
<line x1="161.38" y1="343.93" x2="146.22" y2="361.09" stroke="#7a5038" stroke-width="0.85"/>
<line x1="226.13" y1="268.06" x2="142.05" y2="357.29" stroke="#7a5038" stroke-width="0.85"/>
<line x1="222.07" y1="263.78" x2="161.23" y2="315.26" stroke="#2a6a48" stroke-width="0.85"/>
<path d="M165.48,320.04 A132,132 0 0 1 157.22,310.28" fill="none" stroke="#2a6a48" stroke-width="0.85"/>
<line x1="165.48" y1="320.04" x2="151.58" y2="333.00" stroke="#2a6a48" stroke-width="0.85"/>
<path d="M154.97,336.51 A151,151 0 0 1 148.32,329.38" fill="none" stroke="#2a6a48" stroke-width="0.85"/>
<line x1="154.97" y1="336.51" x2="138.03" y2="353.37" stroke="#2a6a48" stroke-width="0.85"/>
<line x1="151.58" y1="333.00" x2="134.11" y2="349.30" stroke="#2a6a48" stroke-width="0.85"/>
<line x1="148.32" y1="329.38" x2="130.32" y2="345.11" stroke="#2a6a48" stroke-width="0.85"/>
<line x1="157.22" y1="310.28" x2="142.14" y2="321.84" stroke="#2a6a48" stroke-width="0.85"/>
<path d="M145.17,325.66 A151,151 0 0 1 139.24,317.92" fill="none" stroke="#2a6a48" stroke-width="0.85"/>
<line x1="145.17" y1="325.66" x2="126.67" y2="340.80" stroke="#2a6a48" stroke-width="0.85"/>
<line x1="142.14" y1="321.84" x2="123.17" y2="336.38" stroke="#2a6a48" stroke-width="0.85"/>
<line x1="139.24" y1="317.92" x2="119.81" y2="331.84" stroke="#2a6a48" stroke-width="0.85"/>
<line x1="216.25" y1="255.34" x2="147.41" y2="293.48" stroke="#444" stroke-width="0.85"/>
<path d="M152.37,301.71 A131,131 0 0 1 143.06,284.90" fill="none" stroke="#444" stroke-width="0.85"/>
<line x1="152.37" y1="301.71" x2="136.47" y2="312.11" stroke="#444" stroke-width="0.85"/>
<path d="M137.64,313.88 A150,150 0 0 1 135.32,310.33" fill="none" stroke="#444" stroke-width="0.85"/>
<line x1="137.64" y1="313.88" x2="117.00" y2="327.80" stroke="#444" stroke-width="0.85"/>
<line x1="135.32" y1="310.33" x2="114.29" y2="323.66" stroke="#444" stroke-width="0.85"/>
<line x1="148.49" y1="295.40" x2="132.03" y2="304.89" stroke="#444" stroke-width="0.85"/>
<path d="M133.10,306.72 A150,150 0 0 1 130.99,303.04" fill="none" stroke="#444" stroke-width="0.85"/>
<line x1="133.10" y1="306.72" x2="111.71" y2="319.45" stroke="#444" stroke-width="0.85"/>
<line x1="130.99" y1="303.04" x2="109.24" y2="315.17" stroke="#444" stroke-width="0.85"/>
<line x1="143.06" y1="284.90" x2="134.89" y2="288.67" stroke="#34465e" stroke-width="0.85"/>
<path d="M136.85,292.74 A140,140 0 0 1 133.06,284.53" fill="none" stroke="#34465e" stroke-width="0.85"/>
<line x1="136.85" y1="292.74" x2="125.58" y2="298.39" stroke="#34465e" stroke-width="0.85"/>
<path d="M126.70,300.58 A152.6,152.6 0 0 1 124.50,296.18" fill="none" stroke="#34465e" stroke-width="0.85"/>
<line x1="126.70" y1="300.58" x2="106.93" y2="310.90" stroke="#34465e" stroke-width="0.85"/>
<line x1="124.50" y1="296.18" x2="104.40" y2="305.85" stroke="#34465e" stroke-width="0.85"/>
<line x1="133.06" y1="284.53" x2="121.45" y2="289.44" stroke="#34465e" stroke-width="0.85"/>
<path d="M122.43,291.70 A152.6,152.6 0 0 1 120.51,287.16" fill="none" stroke="#34465e" stroke-width="0.85"/>
<line x1="122.43" y1="291.70" x2="102.04" y2="300.72" stroke="#34465e" stroke-width="0.85"/>
<line x1="120.51" y1="287.16" x2="99.84" y2="295.52" stroke="#34465e" stroke-width="0.85"/>
<line x1="211.55" y1="243.80" x2="135.64" y2="264.55" stroke="#34465e" stroke-width="0.85"/>
<path d="M138.31,273.14 A131,131 0 0 1 133.57,255.81" fill="none" stroke="#34465e" stroke-width="0.85"/>
<line x1="138.31" y1="273.14" x2="118.48" y2="280.05" stroke="#34465e" stroke-width="0.85"/>
<path d="M119.30,282.36 A152,152 0 0 1 117.69,277.73" fill="none" stroke="#34465e" stroke-width="0.85"/>
<line x1="119.30" y1="282.36" x2="97.80" y2="290.25" stroke="#34465e" stroke-width="0.85"/>
<line x1="117.69" y1="277.73" x2="95.95" y2="284.92" stroke="#34465e" stroke-width="0.85"/>
<line x1="133.57" y1="255.81" x2="126.70" y2="257.19" stroke="#34465e" stroke-width="0.85"/>
<path d="M129.04,266.94 A138,138 0 0 1 125.09,247.30" fill="none" stroke="#34465e" stroke-width="0.85"/>
<line x1="129.04" y1="266.94" x2="115.55" y2="270.68" stroke="#34465e" stroke-width="0.85"/>
<path d="M116.22,273.04 A152,152 0 0 1 114.91,268.31" fill="none" stroke="#34465e" stroke-width="0.85"/>
<line x1="116.22" y1="273.04" x2="94.26" y2="279.53" stroke="#34465e" stroke-width="0.85"/>
<line x1="114.91" y1="268.31" x2="92.75" y2="274.09" stroke="#34465e" stroke-width="0.85"/>
<line x1="126.93" y1="258.28" x2="113.23" y2="261.15" stroke="#34465e" stroke-width="0.85"/>
<path d="M113.75,263.55 A152,152 0 0 1 112.74,258.74" fill="none" stroke="#34465e" stroke-width="0.85"/>
<line x1="113.75" y1="263.55" x2="91.41" y2="268.60" stroke="#34465e" stroke-width="0.85"/>
<line x1="112.74" y1="258.74" x2="90.26" y2="263.07" stroke="#34465e" stroke-width="0.85"/>
<line x1="125.09" y1="247.30" x2="111.20" y2="249.05" stroke="#34465e" stroke-width="0.85"/>
<path d="M111.89,253.91 A152,152 0 0 1 110.66,244.17" fill="none" stroke="#34465e" stroke-width="0.85"/>
<line x1="111.89" y1="253.91" x2="89.28" y2="257.51" stroke="#34465e" stroke-width="0.85"/>
<line x1="111.20" y1="249.05" x2="88.48" y2="251.92" stroke="#34465e" stroke-width="0.85"/>
<line x1="110.66" y1="244.17" x2="87.86" y2="246.31" stroke="#34465e" stroke-width="0.85"/>
<line x1="210.02" y1="224.26" x2="150.68" y2="217.71" stroke="#6e3844" stroke-width="0.85"/>
<path d="M150.10,234.62 A112,112 0 0 1 153.80,201.08" fill="none" stroke="#6e3844" stroke-width="0.85"/>
<line x1="150.10" y1="234.62" x2="110.13" y2="236.27" stroke="#6e3844" stroke-width="0.85"/>
<path d="M110.25,238.75 A152,152 0 0 1 110.05,233.79" fill="none" stroke="#6e3844" stroke-width="0.85"/>
<line x1="110.25" y1="238.75" x2="87.39" y2="240.07" stroke="#6e3844" stroke-width="0.85"/>
<line x1="110.05" y1="233.79" x2="87.15" y2="234.36" stroke="#6e3844" stroke-width="0.85"/>
<line x1="150.03" y1="227.30" x2="111.04" y2="226.36" stroke="#6e3844" stroke-width="0.85"/>
<path d="M111.00,228.82 A151,151 0 0 1 111.12,223.89" fill="none" stroke="#6e3844" stroke-width="0.85"/>
<line x1="111.00" y1="228.82" x2="87.11" y2="228.64" stroke="#6e3844" stroke-width="0.85"/>
<line x1="111.12" y1="223.89" x2="87.24" y2="222.92" stroke="#6e3844" stroke-width="0.85"/>
<line x1="150.84" y1="216.35" x2="125.03" y2="213.18" stroke="#6e3844" stroke-width="0.85"/>
<path d="M124.55,217.66 A138,138 0 0 1 125.65,208.71" fill="none" stroke="#6e3844" stroke-width="0.85"/>
<line x1="124.55" y1="217.66" x2="112.60" y2="216.59" stroke="#6e3844" stroke-width="0.85"/>
<path d="M112.40,219.04 A150,150 0 0 1 112.84,214.15" fill="none" stroke="#6e3844" stroke-width="0.85"/>
<line x1="112.40" y1="219.04" x2="87.57" y2="217.21" stroke="#6e3844" stroke-width="0.85"/>
<line x1="112.84" y1="214.15" x2="88.08" y2="211.52" stroke="#6e3844" stroke-width="0.85"/>
<line x1="125.65" y1="208.71" x2="113.80" y2="206.86" stroke="#6e3844" stroke-width="0.85"/>
<path d="M113.44,209.28 A150,150 0 0 1 114.19,204.44" fill="none" stroke="#6e3844" stroke-width="0.85"/>
<line x1="113.44" y1="209.28" x2="88.78" y2="205.85" stroke="#6e3844" stroke-width="0.85"/>
<line x1="114.19" y1="204.44" x2="89.66" y2="200.20" stroke="#6e3844" stroke-width="0.85"/>
<line x1="153.80" y1="201.08" x2="132.54" y2="195.40" stroke="#6e3844" stroke-width="0.85"/>
<path d="M130.78,202.86 A134,134 0 0 1 134.73,188.06" fill="none" stroke="#6e3844" stroke-width="0.85"/>
<line x1="130.78" y1="202.86" x2="90.72" y2="194.58" stroke="#6e3844" stroke-width="0.85"/>
<line x1="131.73" y1="198.59" x2="91.97" y2="189.00" stroke="#6e3844" stroke-width="0.85"/>
<line x1="132.83" y1="194.35" x2="93.40" y2="183.47" stroke="#6e3844" stroke-width="0.85"/>
<line x1="134.73" y1="188.06" x2="115.74" y2="181.80" stroke="#6e3844" stroke-width="0.85"/>
<path d="M114.97,184.20 A154,154 0 0 1 116.54,179.42" fill="none" stroke="#6e3844" stroke-width="0.85"/>
<line x1="114.97" y1="184.20" x2="95.02" y2="177.98" stroke="#6e3844" stroke-width="0.85"/>
<line x1="116.54" y1="179.42" x2="96.80" y2="172.55" stroke="#6e3844" stroke-width="0.85"/>
<line x1="214.26" y1="208.63" x2="118.70" y2="165.85" stroke="#4a4444" stroke-width="0.85"/>
<path d="M115.62,173.25 A157,157 0 0 1 122.16,158.63" fill="none" stroke="#4a4444" stroke-width="0.85"/>
<line x1="115.62" y1="173.25" x2="98.93" y2="166.78" stroke="#4a4444" stroke-width="0.85"/>
<line x1="117.63" y1="168.30" x2="101.17" y2="161.27" stroke="#4a4444" stroke-width="0.85"/>
<line x1="119.81" y1="163.43" x2="103.60" y2="155.84" stroke="#4a4444" stroke-width="0.85"/>
<line x1="122.16" y1="158.63" x2="106.22" y2="150.49" stroke="#4a4444" stroke-width="0.85"/>
<line x1="216.25" y1="204.65" x2="109.01" y2="145.23" stroke="#4a4444" stroke-width="0.85"/>
<line x1="217.06" y1="203.25" x2="111.71" y2="140.55" stroke="#5e5a3a" stroke-width="0.85"/>
<line x1="218.44" y1="201.05" x2="135.41" y2="145.86" stroke="#5e5a3a" stroke-width="0.85"/>
<path d="M134.03,147.97 A152,152 0 0 1 136.82,143.78" fill="none" stroke="#5e5a3a" stroke-width="0.85"/>
<line x1="134.03" y1="147.97" x2="114.75" y2="135.61" stroke="#5e5a3a" stroke-width="0.85"/>
<line x1="136.82" y1="143.78" x2="117.96" y2="130.78" stroke="#5e5a3a" stroke-width="0.85"/>
<line x1="219.94" y1="198.92" x2="121.33" y2="126.06" stroke="#5e5a3a" stroke-width="0.85"/>
<line x1="221.53" y1="196.87" x2="145.94" y2="134.97" stroke="#5e5a3a" stroke-width="0.85"/>
<path d="M144.38,136.91 A150,150 0 0 1 147.53,133.06" fill="none" stroke="#5e5a3a" stroke-width="0.85"/>
<line x1="144.38" y1="136.91" x2="124.86" y2="121.46" stroke="#5e5a3a" stroke-width="0.85"/>
<line x1="147.53" y1="133.06" x2="128.53" y2="116.97" stroke="#5e5a3a" stroke-width="0.85"/>
<line x1="223.23" y1="194.90" x2="132.35" y2="112.61" stroke="#5e5a3a" stroke-width="0.85"/>
<line x1="224.42" y1="193.63" x2="136.31" y2="108.37" stroke="#5e5a3a" stroke-width="0.85"/>
<line x1="225.64" y1="192.40" x2="140.42" y2="104.27" stroke="#5e5a3a" stroke-width="0.85"/>
<line x1="228.91" y1="189.50" x2="173.42" y2="121.59" stroke="#444" stroke-width="0.85"/>
<path d="M169.88,124.58 A140,140 0 0 1 177.06,118.71" fill="none" stroke="#444" stroke-width="0.85"/>
<line x1="169.88" y1="124.58" x2="163.30" y2="117.05" stroke="#444" stroke-width="0.85"/>
<path d="M161.44,118.70 A150,150 0 0 1 165.18,115.43" fill="none" stroke="#444" stroke-width="0.85"/>
<line x1="161.44" y1="118.70" x2="144.74" y2="100.23" stroke="#444" stroke-width="0.85"/>
<line x1="165.18" y1="115.43" x2="149.11" y2="96.41" stroke="#444" stroke-width="0.85"/>
<line x1="177.06" y1="118.71" x2="169.18" y2="108.37" stroke="#444" stroke-width="0.85"/>
<path d="M167.17,109.93 A153,153 0 0 1 171.21,106.85" fill="none" stroke="#444" stroke-width="0.85"/>
<line x1="167.17" y1="109.93" x2="153.60" y2="92.74" stroke="#444" stroke-width="0.85"/>
<line x1="171.21" y1="106.85" x2="158.21" y2="89.22" stroke="#444" stroke-width="0.85"/>
<line x1="232.08" y1="187.11" x2="161.93" y2="86.56" stroke="#5e5a3a" stroke-width="0.85"/>
<line x1="233.48" y1="186.16" x2="166.61" y2="83.40" stroke="#5e5a3a" stroke-width="0.85"/>
<line x1="234.91" y1="185.26" x2="171.40" y2="80.40" stroke="#5e5a3a" stroke-width="0.85"/>
<line x1="236.37" y1="184.41" x2="176.27" y2="77.55" stroke="#5e5a3a" stroke-width="0.85"/>
<line x1="237.85" y1="183.61" x2="181.24" y2="74.86" stroke="#5e5a3a" stroke-width="0.85"/>
<line x1="241.67" y1="181.81" x2="209.52" y2="105.62" stroke="#5e5a3a" stroke-width="0.85"/>
<path d="M205.53,107.38 A135,135 0 0 1 213.57,103.99" fill="none" stroke="#5e5a3a" stroke-width="0.85"/>
<line x1="205.53" y1="107.38" x2="197.17" y2="89.21" stroke="#5e5a3a" stroke-width="0.85"/>
<path d="M194.90,90.27 A155,155 0 0 1 199.45,88.18" fill="none" stroke="#5e5a3a" stroke-width="0.85"/>
<line x1="194.90" y1="90.27" x2="186.29" y2="72.34" stroke="#5e5a3a" stroke-width="0.85"/>
<line x1="199.45" y1="88.18" x2="191.42" y2="69.97" stroke="#5e5a3a" stroke-width="0.85"/>
<line x1="213.57" y1="103.99" x2="206.39" y2="85.32" stroke="#5e5a3a" stroke-width="0.85"/>
<path d="M204.06,86.24 A155,155 0 0 1 208.73,84.44" fill="none" stroke="#5e5a3a" stroke-width="0.85"/>
<line x1="204.06" y1="86.24" x2="196.62" y2="67.78" stroke="#5e5a3a" stroke-width="0.85"/>
<line x1="208.73" y1="84.44" x2="201.89" y2="65.75" stroke="#5e5a3a" stroke-width="0.85"/>
<text transform="translate(261.30,75.50) rotate(269.74)" text-anchor="end" dy="-0.25em" class="bs">59</text>
<text transform="translate(280.17,78.08) rotate(276.82)" text-anchor="end" dy="-0.25em" class="bs">75</text>
<text transform="translate(291.58,77.85) rotate(281.00)" text-anchor="end" dy="-0.25em" class="bs">92</text>
<text transform="translate(299.18,104.39) rotate(286.49)" text-anchor="end" dy="-0.25em" class="bs">99</text>
<text transform="translate(314.02,88.24) rotate(290.15)" text-anchor="end" dy="-0.25em" class="bs">96</text>
<text transform="translate(322.15,93.68) rotate(293.81)" text-anchor="end" dy="-0.25em" class="bs">88</text>
<text transform="translate(331.26,98.08) rotate(297.70)" text-anchor="end" dy="-0.25em" class="bs">81</text>
<text transform="translate(306.75,180.14) rotate(311.91)" text-anchor="end" dy="-0.25em" class="bs">99</text>
<text transform="translate(326.56,138.48) rotate(305.20)" text-anchor="end" dy="-0.25em" class="bs">86</text>
<text transform="translate(331.71,120.27) rotate(302.43)" text-anchor="end" dy="-0.25em" class="bs">99</text>
<text transform="translate(339.85,102.96) rotate(301.50)" text-anchor="end" dy="-0.25em" class="bs">96</text>
<text transform="translate(343.95,117.73) rotate(306.12)" text-anchor="end" dy="-0.25em" class="bs">56</text>
<text transform="translate(347.89,108.25) rotate(305.20)" text-anchor="end" dy="-0.25em" class="bs">56</text>
<text transform="translate(356.82,112.49) rotate(308.90)" text-anchor="end" dy="-0.25em" class="bs">96</text>
<text transform="translate(349.46,137.92) rotate(313.53)" text-anchor="end" dy="-0.25em" class="bs">94</text>
<text transform="translate(362.85,120.32) rotate(312.60)" text-anchor="end" dy="-0.25em" class="bs">96</text>
<text transform="translate(364.03,135.60) rotate(317.22)" text-anchor="end" dy="-0.25em" class="bs">56</text>
<text transform="translate(373.34,123.60) rotate(316.30)" text-anchor="end" dy="-0.25em" class="bs">99</text>
<text transform="translate(379.97,131.01) rotate(320.00)" text-anchor="end" dy="-0.25em" class="bs">88</text>
<text transform="translate(339.30,180.12) rotate(327.17)" text-anchor="end" dy="-0.25em" class="bs">94</text>
<text transform="translate(385.09,146.03) rotate(325.70)" text-anchor="end" dy="-0.25em" class="bs">99</text>
<text transform="translate(392.95,147.07) rotate(327.65)" text-anchor="end" dy="-0.25em" class="bs">92</text>
<text transform="translate(363.57,180.48) rotate(334.01)" text-anchor="end" dy="-0.25em" class="bs">99</text>
<text transform="translate(380.91,168.21) rotate(332.54)" text-anchor="end" dy="-0.25em" class="bs">94</text>
<text transform="translate(393.02,159.05) rotate(331.56)" text-anchor="end" dy="-0.25em" class="bs">99</text>
<text transform="translate(389.39,179.58) rotate(338.41)" text-anchor="end" dy="-0.25em" class="bs">75</text>
<text transform="translate(404.21,170.89) rotate(337.43)" text-anchor="end" dy="-0.25em" class="bs">70</text>
<text transform="translate(405.06,181.69) rotate(341.34)" text-anchor="end" dy="-0.25em" class="bs">56</text>
<text transform="translate(408.02,191.56) rotate(345.25)" text-anchor="end" dy="-0.25em" class="bs">75</text>
<text transform="translate(389.98,207.17) rotate(349.88)" text-anchor="end" dy="-0.25em" class="bs">88</text>
<text transform="translate(408.26,201.57) rotate(349.00)" text-anchor="end" dy="-0.25em" class="bs">70</text>
<text transform="translate(411.72,210.40) rotate(352.54)" text-anchor="end" dy="-0.25em" class="bs">63</text>
<text transform="translate(373.00,229.79) rotate(359.89)" text-anchor="end" dy="-0.25em" class="bs">88</text>
<text transform="translate(394.70,221.02) rotate(356.13)" text-anchor="end" dy="-0.25em" class="bs">86</text>
<text transform="translate(414.91,224.69) rotate(358.01)" text-anchor="end" dy="-0.25em" class="bs">81</text>
<text transform="translate(391.17,244.65) rotate(366.47)" text-anchor="end" dy="-0.25em" class="bs">88</text>
<text transform="translate(415.28,244.84) rotate(365.53)" text-anchor="end" dy="-0.25em" class="bs">96</text>
<text transform="translate(397.91,259.16) rotate(372.11)" text-anchor="end" dy="-0.25em" class="bs">99</text>
<text transform="translate(410.14,259.25) rotate(371.17)" text-anchor="end" dy="-0.25em" class="bs">86</text>
<text transform="translate(380.70,265.86) rotate(376.81)" text-anchor="end" dy="-0.25em" class="bs">83</text>
<text transform="translate(401.50,282.35) rotate(380.57)" text-anchor="end" dy="-0.25em" class="bs">56</text>
<text transform="translate(388.57,308.63) rotate(391.85)" text-anchor="end" dy="-0.25em" class="bs">59</text>
<text transform="translate(384.79,317.88) rotate(395.59)" text-anchor="end" dy="-0.25em" class="bs">72</text>
<text transform="translate(356.37,345.30) rotate(410.70)" text-anchor="end" dy="-0.25em" class="bs">72</text>
<text transform="translate(315.62,326.04) rotate(420.82)" text-anchor="end" dy="-0.25em" class="bs">81</text>
<text transform="translate(337.08,358.70) rotate(419.74)" text-anchor="end" dy="-0.25em" class="bs">70</text>
<text transform="translate(318.39,346.02) rotate(424.08)" text-anchor="end" dy="-0.25em" class="bs">94</text>
<text transform="translate(322.01,366.38) rotate(426.25)" text-anchor="end" dy="-0.25em" class="bs">63</text>
<text transform="translate(304.87,351.67) rotate(430.59)" text-anchor="end" dy="-0.25em" class="bs">94</text>
<text transform="translate(306.16,372.31) rotate(432.76)" text-anchor="end" dy="-0.25em" class="bs">96</text>
<text transform="translate(295.26,375.24) rotate(437.10)" text-anchor="end" dy="-0.25em" class="bs">70</text>
<text transform="translate(277.51,338.90) rotate(441.90)" text-anchor="end" dy="-0.25em" class="bs">83</text>
<text transform="translate(285.39,377.15) rotate(440.97)" text-anchor="end" dy="-0.25em" class="bs">59</text>
<text transform="translate(271.91,358.62) rotate(445.60)" text-anchor="end" dy="-0.25em" class="bs">72</text>
<text transform="translate(275.84,378.36) rotate(444.67)" text-anchor="end" dy="-0.25em" class="bs">70</text>
<text transform="translate(261.43,379.00) rotate(270.22)" dy="-0.25em" class="bs">96</text>
<text transform="translate(252.93,360.69) rotate(273.97)" dy="-0.25em" class="bs">88</text>
<text transform="translate(246.89,378.23) rotate(275.82)" dy="-0.25em" class="bs">56</text>
<text transform="translate(222.74,375.81) rotate(285.07)" dy="-0.25em" class="bs">63</text>
<text transform="translate(217.83,331.83) rotate(293.45)" dy="-0.25em" class="bs">59</text>
<text transform="translate(218.62,351.49) rotate(289.65)" dy="-0.25em" class="bs">75</text>
<text transform="translate(214.23,371.13) rotate(288.70)" dy="-0.25em" class="bs">83</text>
<text transform="translate(205.75,365.81) rotate(292.50)" dy="-0.25em" class="bs">56</text>
<text transform="translate(195.98,363.58) rotate(296.30)" dy="-0.25em" class="bs">99</text>
<text transform="translate(177.89,355.41) rotate(303.85)" dy="-0.25em" class="bs">96</text>
<text transform="translate(166.16,346.68) rotate(309.40)" dy="-0.25em" class="bs">59</text>
<text transform="translate(166.52,319.69) rotate(316.79)" dy="-0.25em" class="bs">59</text>
<text transform="translate(156.05,336.18) rotate(314.94)" dy="-0.25em" class="bs">81</text>
<text transform="translate(146.27,325.43) rotate(320.49)" dy="-0.25em" class="bs">83</text>
<text transform="translate(153.46,301.54) rotate(326.61)" dy="-0.25em" class="bs">72</text>
<text transform="translate(138.76,313.75) rotate(325.80)" dy="-0.25em" class="bs">96</text>
<text transform="translate(134.23,306.65) rotate(329.04)" dy="-0.25em" class="bs">96</text>
<text transform="translate(137.96,292.73) rotate(333.17)" dy="-0.25em" class="bs">97</text>
<text transform="translate(127.84,300.59) rotate(332.25)" dy="-0.25em" class="bs">83</text>
<text transform="translate(123.56,291.78) rotate(335.95)" dy="-0.25em" class="bs">96</text>
<text transform="translate(139.40,273.23) rotate(340.58)" dy="-0.25em" class="bs">99</text>
<text transform="translate(120.42,282.51) rotate(339.65)" dy="-0.25em" class="bs">70</text>
<text transform="translate(130.13,267.13) rotate(344.28)" dy="-0.25em" class="bs">72</text>
<text transform="translate(117.33,273.27) rotate(343.35)" dy="-0.25em" class="bs">70</text>
<text transform="translate(114.84,263.84) rotate(347.05)" dy="-0.25em" class="bs">92</text>
<text transform="translate(112.96,254.27) rotate(350.75)" dy="-0.25em" class="bs">81</text>
<text transform="translate(151.11,234.96) rotate(357.44)" dy="-0.25em" class="bs">98</text>
<text transform="translate(111.28,239.22) rotate(356.50)" dy="-0.25em" class="bs">72</text>
<text transform="translate(112.00,229.36) rotate(360.25)" dy="-0.25em" class="bs">81</text>
<text transform="translate(125.51,218.23) rotate(364.93)" dy="-0.25em" class="bs">63</text>
<text transform="translate(113.36,219.63) rotate(363.99)" dy="-0.25em" class="bs">88</text>
<text transform="translate(114.36,209.94) rotate(367.74)" dy="-0.25em" class="bs">83</text>
<text transform="translate(131.66,203.52) rotate(371.48)" dy="-0.25em" class="bs">99</text>
<text transform="translate(115.77,185.00) rotate(377.10)" dy="-0.25em" class="bs">86</text>
<text transform="translate(116.35,174.12) rotate(380.99)" dy="-0.25em" class="bs">70</text>
<text transform="translate(134.59,148.96) rotate(392.46)" dy="-0.25em" class="bs">75</text>
<text transform="translate(144.84,137.94) rotate(398.16)" dy="-0.25em" class="bs">94</text>
<text transform="translate(170.17,125.65) rotate(408.65)" dy="-0.25em" class="bs">92</text>
<text transform="translate(161.72,119.79) rotate(407.70)" dy="-0.25em" class="bs">92</text>
<text transform="translate(167.38,111.04) rotate(411.50)" dy="-0.25em" class="bs">83</text>
<text transform="translate(205.53,108.48) rotate(425.08)" dy="-0.25em" class="bs">96</text>
<text transform="translate(194.85,91.41) rotate(424.15)" dy="-0.25em" class="bs">63</text>
<text transform="translate(203.94,87.37) rotate(427.85)" dy="-0.25em" class="bs">72</text>
</g>
<g class="lab">
<text transform="translate(261.81,52.60) rotate(269.94) scale(0.87,1)" dy="0.35em" fill="#1e2e1e" stroke="#1e2e1e"><tspan class="dot">●</tspan>NlFoxQ</text>
<text transform="translate(267.29,52.68) rotate(271.71) scale(0.87,1)" dy="0.35em" fill="#1e2e1e" stroke="#1e2e1e">AaFoxQ</text>
<text transform="translate(272.77,52.93) rotate(273.48) scale(0.87,1)" dy="0.35em" fill="#1e2e1e" stroke="#1e2e1e">DmFoxQ</text>
<text transform="translate(278.23,53.34) rotate(275.25) scale(0.87,1)" dy="0.35em" fill="#1e2e1e" stroke="#1e2e1e">SpFoxQ2</text>
<text transform="translate(283.68,53.93) rotate(277.02) scale(0.87,1)" dy="0.35em" fill="#1e2e1e" stroke="#1e2e1e">HsFOXQ1</text>
<text transform="translate(289.11,54.68) rotate(278.79) scale(0.87,1)" dy="0.35em" fill="#1e2e1e" stroke="#1e2e1e">MmFoxq1</text>
<text transform="translate(296.46,55.98) rotate(281.20) scale(0.87,1)" dy="0.35em" fill="#3a1e2a" stroke="#3a1e2a">SpFoxF</text>
<text transform="translate(302.00,57.17) rotate(283.03) scale(0.87,1)" dy="0.35em" fill="#3a1e2a" stroke="#3a1e2a">AaFoxF</text>
<text transform="translate(307.50,58.53) rotate(284.86) scale(0.87,1)" dy="0.35em" fill="#3a1e2a" stroke="#3a1e2a">DmFoxF</text>
<text transform="translate(312.95,60.07) rotate(286.69) scale(0.87,1)" dy="0.35em" fill="#3a1e2a" stroke="#3a1e2a"><tspan class="dot">●</tspan>NlFoxF</text>
<text transform="translate(318.35,61.79) rotate(288.52) scale(0.87,1)" dy="0.35em" fill="#3a1e2a" stroke="#3a1e2a">BmFoxF</text>
<text transform="translate(323.69,63.67) rotate(290.35) scale(0.87,1)" dy="0.35em" fill="#3a1e2a" stroke="#3a1e2a">HsFOXF1</text>
<text transform="translate(328.97,65.73) rotate(292.18) scale(0.87,1)" dy="0.35em" fill="#3a1e2a" stroke="#3a1e2a">HsFOXF2</text>
<text transform="translate(334.18,67.95) rotate(294.01) scale(0.87,1)" dy="0.35em" fill="#3a1e2a" stroke="#3a1e2a">MmFoxf2</text>
<text transform="translate(339.32,70.34) rotate(295.84) scale(0.87,1)" dy="0.35em" fill="#3a1e2a" stroke="#3a1e2a">MmFoxf1</text>
<text transform="translate(345.01,73.22) rotate(297.90) scale(0.87,1)" dy="0.35em" fill="#222" stroke="#222">MmFoxh1</text>
<text transform="translate(350.03,75.98) rotate(299.75) scale(0.87,1)" dy="0.35em" fill="#222" stroke="#222">HsFOXH1</text>
<text transform="translate(355.22,79.07) rotate(301.70) scale(0.87,1)" dy="0.35em" fill="#4e4038" stroke="#4e4038"><tspan class="dot">●</tspan>NlFoxB1a</text>
<text transform="translate(360.04,82.15) rotate(303.55) scale(0.87,1)" dy="0.35em" fill="#4e4038" stroke="#4e4038"><tspan class="dot">●</tspan>NlFoxB1b</text>
<text transform="translate(364.76,85.40) rotate(305.40) scale(0.87,1)" dy="0.35em" fill="#4e4038" stroke="#4e4038">BmFoxB1</text>
<text transform="translate(369.38,88.79) rotate(307.25) scale(0.87,1)" dy="0.35em" fill="#4e4038" stroke="#4e4038">BmFoxB2</text>
<text transform="translate(373.88,92.33) rotate(309.10) scale(0.87,1)" dy="0.35em" fill="#4e4038" stroke="#4e4038">AaFoxB2</text>
<text transform="translate(378.27,96.01) rotate(310.95) scale(0.87,1)" dy="0.35em" fill="#4e4038" stroke="#4e4038">AaFoxB1</text>
<text transform="translate(382.53,99.84) rotate(312.80) scale(0.87,1)" dy="0.35em" fill="#4e4038" stroke="#4e4038">DmFoxB</text>
<text transform="translate(386.67,103.80) rotate(314.65) scale(0.87,1)" dy="0.35em" fill="#4e4038" stroke="#4e4038">SpFoxB</text>
<text transform="translate(390.68,107.89) rotate(316.50) scale(0.87,1)" dy="0.35em" fill="#4e4038" stroke="#4e4038">HsFOXB1</text>
<text transform="translate(394.56,112.10) rotate(318.35) scale(0.87,1)" dy="0.35em" fill="#4e4038" stroke="#4e4038">MmFoxb1</text>
<text transform="translate(398.29,116.44) rotate(320.20) scale(0.87,1)" dy="0.35em" fill="#4e4038" stroke="#4e4038">HsFOXB2</text>
<text transform="translate(401.89,120.90) rotate(322.05) scale(0.87,1)" dy="0.35em" fill="#4e4038" stroke="#4e4038">MmFoxb2</text>
<text transform="translate(405.34,125.48) rotate(323.90) scale(0.87,1)" dy="0.35em" fill="#4e4038" stroke="#4e4038">DmFoxB2</text>
<text transform="translate(408.90,130.54) rotate(325.90) scale(0.87,1)" dy="0.35em" fill="#2a2438" stroke="#2a2438">SpFoxA</text>
<text transform="translate(412.21,135.61) rotate(327.85) scale(0.87,1)" dy="0.35em" fill="#2a2438" stroke="#2a2438">AaFoxA1</text>
<text transform="translate(415.34,140.79) rotate(329.81) scale(0.87,1)" dy="0.35em" fill="#2a2438" stroke="#2a2438">AaFoxA2</text>
<text transform="translate(418.29,146.07) rotate(331.76) scale(0.87,1)" dy="0.35em" fill="#2a2438" stroke="#2a2438">DmFoxA</text>
<text transform="translate(421.06,151.45) rotate(333.72) scale(0.87,1)" dy="0.35em" fill="#2a2438" stroke="#2a2438">BmFoxA</text>
<text transform="translate(423.65,156.93) rotate(335.67) scale(0.87,1)" dy="0.35em" fill="#2a2438" stroke="#2a2438"><tspan class="dot">●</tspan>NlFoxA</text>
<text transform="translate(426.05,162.48) rotate(337.63) scale(0.87,1)" dy="0.35em" fill="#2a2438" stroke="#2a2438">HsFOXA2</text>
<text transform="translate(428.26,168.12) rotate(339.58) scale(0.87,1)" dy="0.35em" fill="#2a2438" stroke="#2a2438">MmFoxa2</text>
<text transform="translate(430.27,173.83) rotate(341.54) scale(0.87,1)" dy="0.35em" fill="#2a2438" stroke="#2a2438">HsFOXA1</text>
<text transform="translate(432.09,179.60) rotate(343.50) scale(0.87,1)" dy="0.35em" fill="#2a2438" stroke="#2a2438">HsFOXA3</text>
<text transform="translate(433.71,185.43) rotate(345.45) scale(0.87,1)" dy="0.35em" fill="#2a2438" stroke="#2a2438">MmFoxa1</text>
<text transform="translate(435.13,191.32) rotate(347.40) scale(0.87,1)" dy="0.35em" fill="#2a2438" stroke="#2a2438">MmFoxa3</text>
<text transform="translate(436.26,196.76) rotate(349.20) scale(0.87,1)" dy="0.35em" fill="#222" stroke="#222">HsFOXE1</text>
<text transform="translate(437.20,202.16) rotate(350.97) scale(0.87,1)" dy="0.35em" fill="#222" stroke="#222">MmFoxe1</text>
<text transform="translate(437.98,207.58) rotate(352.74) scale(0.87,1)" dy="0.35em" fill="#222" stroke="#222">HsFOXE3</text>
<text transform="translate(438.59,213.03) rotate(354.51) scale(0.87,1)" dy="0.35em" fill="#222" stroke="#222">MmFoxe3</text>
<text transform="translate(439.04,218.64) rotate(356.33) scale(0.87,1)" dy="0.35em" fill="#1e1e1e" stroke="#1e1e1e">SpFoxD</text>
<text transform="translate(439.31,224.46) rotate(358.21) scale(0.87,1)" dy="0.35em" fill="#1e1e1e" stroke="#1e1e1e">AaFoxD</text>
<text transform="translate(439.40,230.28) rotate(360.09) scale(0.87,1)" dy="0.35em" fill="#1e1e1e" stroke="#1e1e1e">DmFoxD</text>
<text transform="translate(439.30,236.10) rotate(361.97) scale(0.87,1)" dy="0.35em" fill="#1e1e1e" stroke="#1e1e1e"><tspan class="dot">●</tspan>NlFoxD</text>
<text transform="translate(439.00,241.91) rotate(363.85) scale(0.87,1)" dy="0.35em" fill="#1e1e1e" stroke="#1e1e1e">BmFoxD</text>
<text transform="translate(438.51,247.71) rotate(365.73) scale(0.87,1)" dy="0.35em" fill="#1e1e1e" stroke="#1e1e1e">HsFOXD2</text>
<text transform="translate(437.84,253.49) rotate(367.61) scale(0.87,1)" dy="0.35em" fill="#1e1e1e" stroke="#1e1e1e">MmFoxd2</text>
<text transform="translate(436.97,259.25) rotate(369.49) scale(0.87,1)" dy="0.35em" fill="#1e1e1e" stroke="#1e1e1e">HsFOXD1</text>
<text transform="translate(435.92,264.97) rotate(371.37) scale(0.87,1)" dy="0.35em" fill="#1e1e1e" stroke="#1e1e1e">MmFoxd1</text>
<text transform="translate(434.68,270.66) rotate(373.25) scale(0.87,1)" dy="0.35em" fill="#1e1e1e" stroke="#1e1e1e">HsFOXD3</text>
<text transform="translate(433.25,276.30) rotate(375.13) scale(0.87,1)" dy="0.35em" fill="#1e1e1e" stroke="#1e1e1e">MmFoxd3</text>
<text transform="translate(431.64,281.90) rotate(377.01) scale(0.87,1)" dy="0.35em" fill="#1e1e1e" stroke="#1e1e1e">HsFOXD4</text>
<text transform="translate(429.85,287.43) rotate(378.89) scale(0.87,1)" dy="0.35em" fill="#1e1e1e" stroke="#1e1e1e">MmFoxd4</text>
<text transform="translate(427.87,292.91) rotate(380.77) scale(0.87,1)" dy="0.35em" fill="#1e1e1e" stroke="#1e1e1e">HsFOXD4L1</text>
<text transform="translate(425.72,298.32) rotate(382.65) scale(0.87,1)" dy="0.35em" fill="#1e1e1e" stroke="#1e1e1e">HsFOXD4L2</text>
<text transform="translate(423.39,303.65) rotate(384.53) scale(0.87,1)" dy="0.35em" fill="#1e1e1e" stroke="#1e1e1e">HsFOXD4L3</text>
<text transform="translate(420.89,308.91) rotate(386.41) scale(0.87,1)" dy="0.35em" fill="#1e1e1e" stroke="#1e1e1e">HsFOXD4L4</text>
<text transform="translate(418.21,314.08) rotate(388.29) scale(0.87,1)" dy="0.35em" fill="#1e1e1e" stroke="#1e1e1e">HsFOXD4L5</text>
<text transform="translate(415.37,319.16) rotate(390.17) scale(0.87,1)" dy="0.35em" fill="#1e1e1e" stroke="#1e1e1e">HsFOXD4L6</text>
<text transform="translate(412.36,324.14) rotate(392.05) scale(0.87,1)" dy="0.35em" fill="#163850" stroke="#163850">AaFoxC</text>
<text transform="translate(409.21,329.00) rotate(393.92) scale(0.87,1)" dy="0.35em" fill="#163850" stroke="#163850">DmFoxC</text>
<text transform="translate(405.90,333.75) rotate(395.79) scale(0.87,1)" dy="0.35em" fill="#163850" stroke="#163850">BmFoxC</text>
<text transform="translate(402.44,338.39) rotate(397.66) scale(0.87,1)" dy="0.35em" fill="#163850" stroke="#163850">BmFoxC1</text>
<text transform="translate(398.83,342.91) rotate(399.53) scale(0.87,1)" dy="0.35em" fill="#163850" stroke="#163850"><tspan class="dot">●</tspan>NlFoxC</text>
<text transform="translate(395.07,347.32) rotate(401.40) scale(0.87,1)" dy="0.35em" fill="#163850" stroke="#163850">MmFoxc2</text>
<text transform="translate(391.17,351.60) rotate(403.27) scale(0.87,1)" dy="0.35em" fill="#163850" stroke="#163850">MmFoxc1</text>
<text transform="translate(387.13,355.75) rotate(405.14) scale(0.87,1)" dy="0.35em" fill="#163850" stroke="#163850">HsFOXC2</text>
<text transform="translate(382.96,359.76) rotate(407.01) scale(0.87,1)" dy="0.35em" fill="#163850" stroke="#163850">HsFOXC1</text>
<text transform="translate(378.67,363.64) rotate(408.88) scale(0.87,1)" dy="0.35em" fill="#163850" stroke="#163850">SpFoxC</text>
<text transform="translate(373.88,367.67) rotate(410.90) scale(0.87,1)" dy="0.35em" fill="#4a2a18" stroke="#4a2a18">MmFoxl1</text>
<text transform="translate(369.38,371.21) rotate(412.75) scale(0.87,1)" dy="0.35em" fill="#4a2a18" stroke="#4a2a18">HsFOXL1</text>
<text transform="translate(364.76,374.60) rotate(414.60) scale(0.87,1)" dy="0.35em" fill="#4a2a18" stroke="#4a2a18">SpFoxL1</text>
<text transform="translate(360.04,377.85) rotate(416.45) scale(0.87,1)" dy="0.35em" fill="#4a2a18" stroke="#4a2a18">DmFoxL1</text>
<text transform="translate(355.22,380.93) rotate(418.30) scale(0.87,1)" dy="0.35em" fill="#4a2a18" stroke="#4a2a18"><tspan class="dot">●</tspan>NlFoxL1</text>
<text transform="translate(350.86,383.54) rotate(419.94) scale(0.87,1)" dy="0.35em" fill="#1e2836" stroke="#1e2836"><tspan class="dot">●</tspan>NlFoxK</text>
<text transform="translate(344.98,386.79) rotate(422.11) scale(0.87,1)" dy="0.35em" fill="#1e2836" stroke="#1e2836">AaFoxK</text>
<text transform="translate(338.99,389.82) rotate(424.28) scale(0.87,1)" dy="0.35em" fill="#1e2836" stroke="#1e2836">DmFoxK</text>
<text transform="translate(332.88,392.62) rotate(426.45) scale(0.87,1)" dy="0.35em" fill="#1e2836" stroke="#1e2836">HsFOXK2</text>
<text transform="translate(326.67,395.19) rotate(428.62) scale(0.87,1)" dy="0.35em" fill="#1e2836" stroke="#1e2836">MmFoxk2</text>
<text transform="translate(320.37,397.52) rotate(430.79) scale(0.87,1)" dy="0.35em" fill="#1e2836" stroke="#1e2836">SpFoxK</text>
<text transform="translate(313.99,399.61) rotate(432.96) scale(0.87,1)" dy="0.35em" fill="#1e2836" stroke="#1e2836">HsFOXK1</text>
<text transform="translate(307.53,401.46) rotate(435.13) scale(0.87,1)" dy="0.35em" fill="#1e2836" stroke="#1e2836">MmFoxk1</text>
<text transform="translate(301.00,403.06) rotate(437.30) scale(0.87,1)" dy="0.35em" fill="#222" stroke="#222">MmFoxs1</text>
<text transform="translate(295.12,404.28) rotate(439.24) scale(0.87,1)" dy="0.35em" fill="#222" stroke="#222">HsFOXS1</text>
<text transform="translate(289.23,405.30) rotate(441.17) scale(0.87,1)" dy="0.35em" fill="#143a26" stroke="#143a26">DmFoxJ1</text>
<text transform="translate(283.56,406.09) rotate(443.02) scale(0.87,1)" dy="0.35em" fill="#143a26" stroke="#143a26">AaFoxJ1</text>
<text transform="translate(277.86,406.69) rotate(444.87) scale(0.87,1)" dy="0.35em" fill="#143a26" stroke="#143a26">MmFoxj1</text>
<text transform="translate(272.15,407.11) rotate(446.72) scale(0.87,1)" dy="0.35em" fill="#143a26" stroke="#143a26">HsFOXJ1</text>
<text transform="translate(266.43,407.34) rotate(448.57) scale(0.87,1)" dy="0.35em" fill="#143a26" stroke="#143a26">SpFoxJ1</text>
<text transform="translate(260.70,407.40) rotate(450.42) scale(0.87,1)" dy="0.35em" fill="#143a26" stroke="#143a26">BmFoxJ1</text>
<text transform="translate(254.97,407.26) rotate(452.27) scale(0.87,1)" dy="0.35em" fill="#143a26" stroke="#143a26"><tspan class="dot">●</tspan>NlFoxJ1</text>
<text transform="translate(249.10,406.93) rotate(454.17) scale(0.87,1)" dy="0.35em" fill="#3a2a20" stroke="#3a2a20">SpFoxG</text>
<text transform="translate(243.40,406.42) rotate(456.02) scale(0.87,1)" dy="0.35em" fill="#3a2a20" stroke="#3a2a20">BmFoxG1</text>
<text transform="translate(237.71,405.73) rotate(457.87) scale(0.87,1)" dy="0.35em" fill="#3a2a20" stroke="#3a2a20">BmFoxG2</text>
<text transform="translate(232.05,404.85) rotate(459.72) scale(0.87,1)" dy="0.35em" fill="#3a2a20" stroke="#3a2a20">AaFoxG</text>
<text transform="translate(226.42,403.80) rotate(461.57) scale(0.87,1)" dy="0.35em" fill="#3a2a20" stroke="#3a2a20"><tspan class="dot">●</tspan>NlFoxG</text>
<text transform="translate(220.83,402.56) rotate(463.42) scale(0.87,1)" dy="0.35em" fill="#3a2a20" stroke="#3a2a20">DmFoxG</text>
<text transform="translate(215.28,401.14) rotate(465.27) scale(0.87,1)" dy="0.35em" fill="#3a2a20" stroke="#3a2a20">HsFOXG1</text>
<text transform="translate(209.78,399.54) rotate(467.12) scale(0.87,1)" dy="0.35em" fill="#3a2a20" stroke="#3a2a20">MmFoxg1</text>
<text transform="translate(204.54,397.84) rotate(468.90) scale(0.87,1)" dy="0.35em" fill="#222" stroke="#222">MmFoxi3</text>
<text transform="translate(199.00,395.84) rotate(470.80) scale(0.87,1)" dy="0.35em" fill="#222" stroke="#222">HsFOXI3</text>
<text transform="translate(193.54,393.66) rotate(472.70) scale(0.87,1)" dy="0.35em" fill="#222" stroke="#222">MmFoxi1</text>
<text transform="translate(188.15,391.30) rotate(474.60) scale(0.87,1)" dy="0.35em" fill="#222" stroke="#222">HsFOXI1</text>
<text transform="translate(182.84,388.76) rotate(476.50) scale(0.87,1)" dy="0.35em" fill="#222" stroke="#222">MmFoxi2</text>
<text transform="translate(177.62,386.05) rotate(478.40) scale(0.87,1)" dy="0.35em" fill="#222" stroke="#222">HsFOXI2</text>
<text transform="translate(172.50,383.17) rotate(480.30) scale(0.87,1)" dy="0.35em" fill="#222" stroke="#222">SpFoxI</text>
<text transform="translate(167.47,380.11) rotate(482.20) scale(0.87,1)" dy="0.35em" fill="#4a2a18" stroke="#4a2a18">DmFoxL2</text>
<text transform="translate(162.67,376.98) rotate(484.05) scale(0.87,1)" dy="0.35em" fill="#4a2a18" stroke="#4a2a18">MmFoxl2</text>
<text transform="translate(157.98,373.70) rotate(485.90) scale(0.87,1)" dy="0.35em" fill="#4a2a18" stroke="#4a2a18">HsFOXL2</text>
<text transform="translate(153.39,370.27) rotate(487.75) scale(0.87,1)" dy="0.35em" fill="#4a2a18" stroke="#4a2a18">SpFoxL2</text>
<text transform="translate(148.92,366.69) rotate(489.60) scale(0.87,1)" dy="0.35em" fill="#4a2a18" stroke="#4a2a18">AaFoxL2</text>
<text transform="translate(144.57,362.97) rotate(491.45) scale(0.87,1)" dy="0.35em" fill="#4a2a18" stroke="#4a2a18">BmFoxL2</text>
<text transform="translate(140.34,359.11) rotate(493.30) scale(0.87,1)" dy="0.35em" fill="#4a2a18" stroke="#4a2a18"><tspan class="dot">●</tspan>NlFoxL2</text>
<text transform="translate(136.25,355.13) rotate(495.14) scale(0.87,1)" dy="0.35em" fill="#143a26" stroke="#143a26">BmFoxJ2/3</text>
<text transform="translate(132.28,351.01) rotate(496.99) scale(0.87,1)" dy="0.35em" fill="#143a26" stroke="#143a26"><tspan class="dot">●</tspan>NlFoxJ2</text>
<text transform="translate(128.44,346.76) rotate(498.84) scale(0.87,1)" dy="0.35em" fill="#143a26" stroke="#143a26">HsFOXJ2</text>
<text transform="translate(124.74,342.39) rotate(500.69) scale(0.87,1)" dy="0.35em" fill="#143a26" stroke="#143a26">MmFoxj2</text>
<text transform="translate(121.18,337.90) rotate(502.54) scale(0.87,1)" dy="0.35em" fill="#143a26" stroke="#143a26">HsFOXJ3</text>
<text transform="translate(117.77,333.29) rotate(504.39) scale(0.87,1)" dy="0.35em" fill="#143a26" stroke="#143a26">MmFoxj3</text>
<text transform="translate(114.93,329.20) rotate(506.00) scale(0.87,1)" dy="0.35em" fill="#222" stroke="#222">Bmfoxa4</text>
<text transform="translate(112.18,325.00) rotate(507.62) scale(0.87,1)" dy="0.35em" fill="#222" stroke="#222">SpFoxM</text>
<text transform="translate(109.56,320.73) rotate(509.24) scale(0.87,1)" dy="0.35em" fill="#222" stroke="#222">MmFoxm1</text>
<text transform="translate(107.05,316.38) rotate(510.86) scale(0.87,1)" dy="0.35em" fill="#222" stroke="#222">HsFOXM1</text>
<text transform="translate(104.72,312.05) rotate(512.45) scale(0.87,1)" dy="0.35em" fill="#1e2a3a" stroke="#1e2a3a">HsFOXO1</text>
<text transform="translate(102.15,306.93) rotate(514.30) scale(0.87,1)" dy="0.35em" fill="#1e2a3a" stroke="#1e2a3a">MmFoxo1</text>
<text transform="translate(99.75,301.73) rotate(516.15) scale(0.87,1)" dy="0.35em" fill="#1e2a3a" stroke="#1e2a3a">HsFOXO3</text>
<text transform="translate(97.52,296.46) rotate(518.00) scale(0.87,1)" dy="0.35em" fill="#1e2a3a" stroke="#1e2a3a">MmFoxo3</text>
<text transform="translate(95.46,291.11) rotate(519.85) scale(0.87,1)" dy="0.35em" fill="#1e2a3a" stroke="#1e2a3a">SpFoxO</text>
<text transform="translate(93.57,285.70) rotate(521.70) scale(0.87,1)" dy="0.35em" fill="#1e2a3a" stroke="#1e2a3a">HsFOXO6</text>
<text transform="translate(91.86,280.24) rotate(523.55) scale(0.87,1)" dy="0.35em" fill="#1e2a3a" stroke="#1e2a3a">MmFoxo6</text>
<text transform="translate(90.33,274.72) rotate(525.40) scale(0.87,1)" dy="0.35em" fill="#1e2a3a" stroke="#1e2a3a">HsFOXO4</text>
<text transform="translate(88.97,269.15) rotate(527.25) scale(0.87,1)" dy="0.35em" fill="#1e2a3a" stroke="#1e2a3a">MmFoxo4</text>
<text transform="translate(87.80,263.55) rotate(529.10) scale(0.87,1)" dy="0.35em" fill="#1e2a3a" stroke="#1e2a3a"><tspan class="dot">●</tspan>NlFoxO</text>
<text transform="translate(86.81,257.90) rotate(530.95) scale(0.87,1)" dy="0.35em" fill="#1e2a3a" stroke="#1e2a3a">DmFoxO</text>
<text transform="translate(86.00,252.23) rotate(532.80) scale(0.87,1)" dy="0.35em" fill="#1e2a3a" stroke="#1e2a3a">AaFoxO</text>
<text transform="translate(85.37,246.54) rotate(534.65) scale(0.87,1)" dy="0.35em" fill="#1e2a3a" stroke="#1e2a3a">BmFoxO</text>
<text transform="translate(84.89,240.21) rotate(536.70) scale(0.87,1)" dy="0.35em" fill="#3e1a24" stroke="#3e1a24">HsFOXP3</text>
<text transform="translate(84.66,234.42) rotate(538.57) scale(0.87,1)" dy="0.35em" fill="#3e1a24" stroke="#3e1a24">MmFoxp3</text>
<text transform="translate(84.61,228.62) rotate(540.45) scale(0.87,1)" dy="0.35em" fill="#3e1a24" stroke="#3e1a24">HsFOXP4</text>
<text transform="translate(84.75,222.82) rotate(542.32) scale(0.87,1)" dy="0.35em" fill="#3e1a24" stroke="#3e1a24">MmFoxp4</text>
<text transform="translate(85.07,217.03) rotate(544.19) scale(0.87,1)" dy="0.35em" fill="#3e1a24" stroke="#3e1a24">HsFOXP1</text>
<text transform="translate(85.59,211.26) rotate(546.07) scale(0.87,1)" dy="0.35em" fill="#3e1a24" stroke="#3e1a24">MmFoxp1</text>
<text transform="translate(86.30,205.50) rotate(547.94) scale(0.87,1)" dy="0.35em" fill="#3e1a24" stroke="#3e1a24">HsFOXP2</text>
<text transform="translate(87.19,199.77) rotate(549.81) scale(0.87,1)" dy="0.35em" fill="#3e1a24" stroke="#3e1a24">MmFoxp2</text>
<text transform="translate(88.28,194.07) rotate(551.68) scale(0.87,1)" dy="0.35em" fill="#3e1a24" stroke="#3e1a24">SpFoxP</text>
<text transform="translate(89.54,188.42) rotate(553.56) scale(0.87,1)" dy="0.35em" fill="#3e1a24" stroke="#3e1a24">BmFoxP</text>
<text transform="translate(90.99,182.80) rotate(555.43) scale(0.87,1)" dy="0.35em" fill="#3e1a24" stroke="#3e1a24">DmFoxP</text>
<text transform="translate(92.63,177.24) rotate(557.30) scale(0.87,1)" dy="0.35em" fill="#3e1a24" stroke="#3e1a24">AaFoxP</text>
<text transform="translate(94.44,171.73) rotate(559.18) scale(0.87,1)" dy="0.35em" fill="#3e1a24" stroke="#3e1a24"><tspan class="dot">●</tspan>NlFoxP</text>
<text transform="translate(96.59,165.88) rotate(381.19) scale(0.87,1)" text-anchor="end" dy="0.35em" fill="#1a1616" stroke="#1a1616">Dmel CG32788</text>
<text transform="translate(98.87,160.29) rotate(383.14) scale(0.87,1)" text-anchor="end" dy="0.35em" fill="#1a1616" stroke="#1a1616">AaFoxJx</text>
<text transform="translate(101.34,154.78) rotate(385.09) scale(0.87,1)" text-anchor="end" dy="0.35em" fill="#1a1616" stroke="#1a1616">Dmd3F</text>
<text transform="translate(103.99,149.35) rotate(387.04) scale(0.87,1)" text-anchor="end" dy="0.35em" fill="#1a1616" stroke="#1a1616">NlFoxT<tspan class="dot">●</tspan></text>
<text transform="translate(106.83,144.02) rotate(388.99) scale(0.87,1)" text-anchor="end" dy="0.35em" fill="#1a1616" stroke="#1a1616">BmFoxL22</text>
<text transform="translate(109.56,139.27) rotate(390.76) scale(0.87,1)" text-anchor="end" dy="0.35em" fill="#1c1a10" stroke="#1c1a10">SpFoxN2/3</text>
<text transform="translate(112.65,134.27) rotate(392.66) scale(0.87,1)" text-anchor="end" dy="0.35em" fill="#1c1a10" stroke="#1c1a10">NlFoxN2<tspan class="dot">●</tspan></text>
<text transform="translate(115.91,129.37) rotate(574.56) scale(0.87,1)" dy="0.35em" fill="#1c1a10" stroke="#1c1a10">HsFOXN2</text>
<text transform="translate(119.32,124.58) rotate(576.46) scale(0.87,1)" dy="0.35em" fill="#1c1a10" stroke="#1c1a10">MmFoxn2</text>
<text transform="translate(122.90,119.91) rotate(578.36) scale(0.87,1)" dy="0.35em" fill="#1c1a10" stroke="#1c1a10">HsFOXN3</text>
<text transform="translate(126.62,115.35) rotate(580.26) scale(0.87,1)" dy="0.35em" fill="#1c1a10" stroke="#1c1a10">MmFoxn3</text>
<text transform="translate(130.50,110.93) rotate(582.16) scale(0.87,1)" dy="0.35em" fill="#1c1a10" stroke="#1c1a10">AaFoxN2</text>
<text transform="translate(134.52,106.63) rotate(584.06) scale(0.87,1)" dy="0.35em" fill="#1c1a10" stroke="#1c1a10">BmFoxN2/3</text>
<text transform="translate(138.68,102.48) rotate(405.96) scale(0.87,1)" text-anchor="end" dy="0.35em" fill="#1c1a10" stroke="#1c1a10">DmFoxN2/3</text>
<text transform="translate(143.07,98.37) rotate(407.90) scale(0.87,1)" text-anchor="end" dy="0.35em" fill="#151515" stroke="#151515">HsFOXR1</text>
<text transform="translate(147.50,94.50) rotate(409.80) scale(0.87,1)" text-anchor="end" dy="0.35em" fill="#151515" stroke="#151515">MmFoxr1</text>
<text transform="translate(152.05,90.78) rotate(411.70) scale(0.87,1)" text-anchor="end" dy="0.35em" fill="#151515" stroke="#151515">HsFOXR2</text>
<text transform="translate(156.73,87.21) rotate(413.60) scale(0.87,1)" text-anchor="end" dy="0.35em" fill="#151515" stroke="#151515">MmFoxr2</text>
<text transform="translate(160.50,84.51) rotate(415.10) scale(0.87,1)" text-anchor="end" dy="0.35em" fill="#1c1a10" stroke="#1c1a10">NlFoxN1<tspan class="dot">●</tspan></text>
<text transform="translate(165.25,81.30) rotate(416.95) scale(0.87,1)" text-anchor="end" dy="0.35em" fill="#1c1a10" stroke="#1c1a10">DmFoxN1/4</text>
<text transform="translate(170.10,78.26) rotate(418.80) scale(0.87,1)" text-anchor="end" dy="0.35em" fill="#1c1a10" stroke="#1c1a10">BmFoxN1/4</text>
<text transform="translate(175.05,75.37) rotate(420.65) scale(0.87,1)" text-anchor="end" dy="0.35em" fill="#1c1a10" stroke="#1c1a10">AaFoxN1</text>
<text transform="translate(180.09,72.64) rotate(422.50) scale(0.87,1)" text-anchor="end" dy="0.35em" fill="#1c1a10" stroke="#1c1a10">SpFoxN1/4</text>
<text transform="translate(185.21,70.08) rotate(424.35) scale(0.87,1)" text-anchor="end" dy="0.35em" fill="#1c1a10" stroke="#1c1a10">HsFOXN1</text>
<text transform="translate(190.41,67.69) rotate(426.20) scale(0.87,1)" text-anchor="end" dy="0.35em" fill="#1c1a10" stroke="#1c1a10">MmFoxn1</text>
<text transform="translate(195.69,65.46) rotate(428.05) scale(0.87,1)" text-anchor="end" dy="0.35em" fill="#1c1a10" stroke="#1c1a10">HsFOXN4</text>
<text transform="translate(201.03,63.40) rotate(429.90) scale(0.87,1)" text-anchor="end" dy="0.35em" fill="#1c1a10" stroke="#1c1a10">MmFoxn4</text>
</g>
<g class="arcs">
<path d="M261.91,14.40 A215.1,215.1 0 0 1 299.25,17.90" fill="none" stroke="#1f80d2" stroke-width="2"/>
<text transform="translate(280.78,14.04) rotate(365.35)" text-anchor="middle" class="cl">Q</text>
<path d="M301.83,18.39 A215.1,215.1 0 0 1 357.75,37.59" fill="none" stroke="#1f80d2" stroke-width="2"/>
<text transform="translate(330.87,24.83) rotate(378.95)" text-anchor="middle" class="cl">F</text>
<path d="M360.09,38.79 A215.1,215.1 0 0 1 371.55,45.22" fill="none" stroke="#1f80d2" stroke-width="2"/>
<text transform="translate(366.50,40.78) rotate(389.30)" text-anchor="middle" class="cl">H</text>
<path d="M373.79,46.59 A215.1,215.1 0 0 1 437.12,106.59" fill="none" stroke="#1f80d2" stroke-width="2"/>
<text transform="translate(409.42,72.40) rotate(403.45)" text-anchor="middle" class="cl">B</text>
<path d="M438.61,108.75 A215.1,215.1 0 0 1 470.56,182.76" fill="none" stroke="#1f80d2" stroke-width="2"/>
<text transform="translate(459.28,143.73) rotate(426.65)" text-anchor="middle" class="cl">A</text>
<path d="M471.12,185.33 A215.1,215.1 0 0 1 474.96,211.69" fill="none" stroke="#1f80d2" stroke-width="2"/>
<text transform="translate(474.73,198.26) rotate(441.70)" text-anchor="middle" class="cl">E</text>
<path d="M475.16,214.31 A215.1,215.1 0 0 1 446.22,338.19" fill="none" stroke="#1f80d2" stroke-width="2"/>
<text transform="translate(471.33,278.73) rotate(463.15)" text-anchor="middle" class="cl">D</text>
<path d="M444.88,340.45 A215.1,215.1 0 0 1 401.58,391.96" fill="none" stroke="#1f80d2" stroke-width="2"/>
<text transform="translate(426.25,368.74) rotate(490.05)" text-anchor="middle" class="cl">C</text>
<path d="M399.58,393.67 A215.1,215.1 0 0 1 373.47,412.61" fill="none" stroke="#1f80d2" stroke-width="2"/>
<text transform="translate(387.64,404.68) rotate(504.05)" text-anchor="middle" class="cl">L1</text>
<path d="M371.22,413.97 A215.1,215.1 0 0 1 315.36,437.51" fill="none" stroke="#1f80d2" stroke-width="2"/>
<text transform="translate(344.63,428.92) rotate(517.15)" text-anchor="middle" class="cl">K</text>
<path d="M312.82,438.17 A215.1,215.1 0 0 1 299.98,440.96" fill="none" stroke="#1f80d2" stroke-width="2"/>
<text transform="translate(306.70,440.93) rotate(527.70)" text-anchor="middle" class="cl">S</text>
<path d="M297.40,441.43 A215.1,215.1 0 0 1 252.16,444.43" fill="none" stroke="#1f80d2" stroke-width="2"/>
<text transform="translate(274.94,445.42) rotate(536.20)" text-anchor="middle" class="cl">J1</text>
<path d="M249.53,444.31 A215.1,215.1 0 0 1 195.74,434.59" fill="none" stroke="#1f80d2" stroke-width="2"/>
<text transform="translate(222.09,442.45) rotate(550.25)" text-anchor="middle" class="cl">G</text>
<path d="M193.24,433.78 A215.1,215.1 0 0 1 151.91,415.12" fill="none" stroke="#1f80d2" stroke-width="2"/>
<text transform="translate(171.55,426.73) rotate(564.30)" text-anchor="middle" class="cl">I</text>
<path d="M149.65,413.78 A215.1,215.1 0 0 1 113.22,386.17" fill="none" stroke="#1f80d2" stroke-width="2"/>
<text transform="translate(129.92,401.98) rotate(577.15)" text-anchor="middle" class="cl">L2</text>
<path d="M111.31,384.36 A215.1,215.1 0 0 1 85.37,354.26" fill="none" stroke="#1f80d2" stroke-width="2"/>
<text transform="translate(96.66,370.76) rotate(589.25)" text-anchor="middle" class="cl">J2</text>
<path d="M83.86,352.11 A215.1,215.1 0 0 1 72.65,334.11" fill="none" stroke="#1f80d2" stroke-width="2"/>
<text transform="translate(76.93,343.93) rotate(598.08)" text-anchor="middle" class="cl">M</text>
<path d="M71.39,331.81 A215.1,215.1 0 0 1 46.25,247.50" fill="none" stroke="#1f80d2" stroke-width="2"/>
<text transform="translate(53.22,291.32) rotate(613.40)" text-anchor="middle" class="cl">O</text>
<path d="M46.05,244.88 A215.1,215.1 0 0 1 58.80,155.05" fill="none" stroke="#1f80d2" stroke-width="2"/>
<text transform="translate(46.35,199.10) rotate(638.08)" text-anchor="middle" class="cl">P</text>
<path d="M59.72,152.59 A215.1,215.1 0 0 1 73.66,123.09" fill="none" stroke="#1f80d2" stroke-width="2"/>
<text transform="translate(64.96,137.02) rotate(655.30)" text-anchor="middle" class="cl">T</text>
<path d="M74.98,120.81 A215.1,215.1 0 0 1 112.13,73.86" fill="none" stroke="#1f80d2" stroke-width="2"/>
<text transform="translate(90.89,95.23) rotate(668.35)" text-anchor="middle" class="cl">N2/3</text>
<path d="M114.04,72.06 A215.1,215.1 0 0 1 133.71,55.81" fill="none" stroke="#1f80d2" stroke-width="2"/>
<text transform="translate(122.81,62.64) rotate(680.45)" text-anchor="middle" class="cl">R</text>
<path d="M135.84,54.27 A215.1,215.1 0 0 1 189.68,26.43" fill="none" stroke="#1f80d2" stroke-width="2"/>
<text transform="translate(161.18,37.29) rotate(692.65)" text-anchor="middle" class="cl">N1/4</text>
</g>
<text x="4" y="18.2" class="pl">(a)</text>
<text x="4.5" y="462" class="pl">(b)</text>
<g class="aln">
<rect x="63.60" y="466.60" width="24.90" height="7.3" fill="#000"/>
<rect x="88.50" y="466.60" width="4.15" height="7.3" fill="#d0d0d0"/>
<rect x="92.65" y="466.60" width="29.05" height="7.3" fill="#000"/>
<rect x="125.85" y="466.60" width="4.15" height="7.3" fill="#d0d0d0"/>
<rect x="130.00" y="466.60" width="4.15" height="7.3" fill="#a6a6a6"/>
<rect x="134.15" y="466.60" width="4.15" height="7.3" fill="#000"/>
<rect x="138.30" y="466.60" width="4.15" height="7.3" fill="#d0d0d0"/>
<rect x="142.45" y="466.60" width="12.45" height="7.3" fill="#000"/>
<rect x="154.90" y="466.60" width="4.15" height="7.3" fill="#a6a6a6"/>
<rect x="159.05" y="466.60" width="4.15" height="7.3" fill="#d0d0d0"/>
<rect x="163.20" y="466.60" width="8.30" height="7.3" fill="#000"/>
<rect x="171.50" y="466.60" width="4.15" height="7.3" fill="#d0d0d0"/>
<rect x="175.65" y="466.60" width="4.15" height="7.3" fill="#000"/>
<rect x="183.95" y="466.60" width="4.15" height="7.3" fill="#000"/>
<rect x="188.10" y="466.60" width="4.15" height="7.3" fill="#d0d0d0"/>
<rect x="196.40" y="466.60" width="4.15" height="7.3" fill="#a6a6a6"/>
<rect x="200.55" y="466.60" width="16.60" height="7.3" fill="#000"/>
<rect x="217.15" y="466.60" width="4.15" height="7.3" fill="#d0d0d0"/>
<rect x="225.45" y="466.60" width="4.15" height="7.3" fill="#000"/>
<rect x="229.60" y="466.60" width="4.15" height="7.3" fill="#d0d0d0"/>
<rect x="233.75" y="466.60" width="58.10" height="7.3" fill="#000"/>
<rect x="291.85" y="466.60" width="4.15" height="7.3" fill="#d0d0d0"/>
<rect x="296.00" y="466.60" width="20.75" height="7.3" fill="#000"/>
<rect x="316.75" y="466.60" width="4.15" height="7.3" fill="#d0d0d0"/>
<rect x="320.90" y="466.60" width="4.15" height="7.3" fill="#a6a6a6"/>
<rect x="325.05" y="466.60" width="4.15" height="7.3" fill="#d0d0d0"/>
<rect x="333.35" y="466.60" width="4.15" height="7.3" fill="#000"/>
<rect x="337.50" y="466.60" width="4.15" height="7.3" fill="#d0d0d0"/>
<rect x="341.65" y="466.60" width="8.30" height="7.3" fill="#000"/>
<rect x="349.95" y="466.60" width="4.15" height="7.3" fill="#a6a6a6"/>
<rect x="354.10" y="466.60" width="12.45" height="7.3" fill="#000"/>
<rect x="437.10" y="466.60" width="8.30" height="7.3" fill="#a6a6a6"/>
<rect x="445.40" y="466.60" width="4.15" height="7.3" fill="#d0d0d0"/>
<text x="63.80" y="472.40" class="seq" textLength="410.45" lengthAdjust="spacing"><tspan fill="#fff">KPPFTY</tspan><tspan fill="#111" font-weight="normal">T</tspan><tspan fill="#fff">ELIEQAL</tspan><tspan fill="#111" font-weight="normal">NES</tspan><tspan fill="#fff">G</tspan><tspan fill="#111" font-weight="normal">E</tspan><tspan fill="#fff">LTV</tspan><tspan fill="#111" font-weight="normal">SG</tspan><tspan fill="#fff">IY</tspan><tspan fill="#111" font-weight="normal">T</tspan><tspan fill="#fff">W</tspan><tspan fill="#111" font-weight="normal">M</tspan><tspan fill="#fff">S</tspan><tspan fill="#111" font-weight="normal">EEY</tspan><tspan fill="#fff">PFFK</tspan><tspan fill="#111" font-weight="normal">AN</tspan><tspan fill="#fff">D</tspan><tspan fill="#111" font-weight="normal">D</tspan><tspan fill="#fff">RWKNSVRHNLSINP</tspan><tspan fill="#111" font-weight="normal">H</tspan><tspan fill="#fff">FRKGM</tspan><tspan fill="#111" font-weight="normal">KASQ</tspan><tspan fill="#fff">G</tspan><tspan fill="#111" font-weight="normal">S</tspan><tspan fill="#fff">GH</tspan><tspan fill="#111" font-weight="normal">L</tspan><tspan fill="#fff">WTI</tspan><tspan fill="#111" font-weight="normal">ST--QGAPPPPLHPNHDTTWKMTEVK</tspan></text>
<text x="12" y="472.60" class="nm"><tspan font-style="italic">Nl</tspan>FoxT</text>
<text x="56" y="472.40" class="sq2">:</text>
<text x="477.6" y="472.40" class="sq2">:</text>
<text x="485.3" y="472.40" class="sq2">96</text>
<rect x="63.60" y="474.90" width="24.90" height="7.3" fill="#000"/>
<rect x="88.50" y="474.90" width="4.15" height="7.3" fill="#d0d0d0"/>
<rect x="92.65" y="474.90" width="16.60" height="7.3" fill="#000"/>
<rect x="113.40" y="474.90" width="8.30" height="7.3" fill="#000"/>
<rect x="125.85" y="474.90" width="4.15" height="7.3" fill="#d0d0d0"/>
<rect x="130.00" y="474.90" width="4.15" height="7.3" fill="#a6a6a6"/>
<rect x="134.15" y="474.90" width="4.15" height="7.3" fill="#000"/>
<rect x="138.30" y="474.90" width="4.15" height="7.3" fill="#d0d0d0"/>
<rect x="142.45" y="474.90" width="12.45" height="7.3" fill="#000"/>
<rect x="154.90" y="474.90" width="4.15" height="7.3" fill="#a6a6a6"/>
<rect x="159.05" y="474.90" width="4.15" height="7.3" fill="#d0d0d0"/>
<rect x="163.20" y="474.90" width="8.30" height="7.3" fill="#000"/>
<rect x="171.50" y="474.90" width="4.15" height="7.3" fill="#a6a6a6"/>
<rect x="175.65" y="474.90" width="4.15" height="7.3" fill="#000"/>
<rect x="179.80" y="474.90" width="4.15" height="7.3" fill="#d0d0d0"/>
<rect x="183.95" y="474.90" width="4.15" height="7.3" fill="#000"/>
<rect x="188.10" y="474.90" width="4.15" height="7.3" fill="#a6a6a6"/>
<rect x="196.40" y="474.90" width="20.75" height="7.3" fill="#000"/>
<rect x="221.30" y="474.90" width="4.15" height="7.3" fill="#d0d0d0"/>
<rect x="225.45" y="474.90" width="4.15" height="7.3" fill="#000"/>
<rect x="229.60" y="474.90" width="4.15" height="7.3" fill="#d0d0d0"/>
<rect x="233.75" y="474.90" width="58.10" height="7.3" fill="#000"/>
<rect x="291.85" y="474.90" width="4.15" height="7.3" fill="#d0d0d0"/>
<rect x="296.00" y="474.90" width="20.75" height="7.3" fill="#000"/>
<rect x="316.75" y="474.90" width="4.15" height="7.3" fill="#d0d0d0"/>
<rect x="320.90" y="474.90" width="4.15" height="7.3" fill="#a6a6a6"/>
<rect x="325.05" y="474.90" width="8.30" height="7.3" fill="#d0d0d0"/>
<rect x="333.35" y="474.90" width="4.15" height="7.3" fill="#000"/>
<rect x="337.50" y="474.90" width="4.15" height="7.3" fill="#d0d0d0"/>
<rect x="341.65" y="474.90" width="8.30" height="7.3" fill="#000"/>
<rect x="349.95" y="474.90" width="4.15" height="7.3" fill="#a6a6a6"/>
<rect x="354.10" y="474.90" width="12.45" height="7.3" fill="#000"/>
<rect x="387.30" y="474.90" width="4.15" height="7.3" fill="#a6a6a6"/>
<rect x="437.10" y="474.90" width="8.30" height="7.3" fill="#a6a6a6"/>
<rect x="445.40" y="474.90" width="4.15" height="7.3" fill="#d0d0d0"/>
<rect x="457.85" y="474.90" width="4.15" height="7.3" fill="#a6a6a6"/>
<text x="63.80" y="480.70" class="seq" textLength="410.45" lengthAdjust="spacing"><tspan fill="#fff">KPPFTY</tspan><tspan fill="#111" font-weight="normal">T</tspan><tspan fill="#fff">ELIE</tspan><tspan fill="#111" font-weight="normal">Y</tspan><tspan fill="#fff">AL</tspan><tspan fill="#111" font-weight="normal">EDK</tspan><tspan fill="#fff">G</tspan><tspan fill="#111" font-weight="normal">E</tspan><tspan fill="#fff">LTV</tspan><tspan fill="#111" font-weight="normal">SG</tspan><tspan fill="#fff">IY</tspan><tspan fill="#111" font-weight="normal">Q</tspan><tspan fill="#fff">W</tspan><tspan fill="#111" font-weight="normal">I</tspan><tspan fill="#fff">S</tspan><tspan fill="#111" font-weight="normal">DD</tspan><tspan fill="#fff">FPFYK</tspan><tspan fill="#111" font-weight="normal">SN</tspan><tspan fill="#fff">D</tspan><tspan fill="#111" font-weight="normal">D</tspan><tspan fill="#fff">RWKNSVRHNLSINP</tspan><tspan fill="#111" font-weight="normal">H</tspan><tspan fill="#fff">FRKGV</tspan><tspan fill="#111" font-weight="normal">KAPQ</tspan><tspan fill="#fff">G</tspan><tspan fill="#111" font-weight="normal">A</tspan><tspan fill="#fff">GH</tspan><tspan fill="#111" font-weight="normal">L</tspan><tspan fill="#fff">WAI</tspan><tspan fill="#111" font-weight="normal">SS--GISAENVLAWEHKRQRLDLLFF</tspan></text>
<text x="12" y="480.90" class="nm"><tspan font-style="italic">Dmd</tspan>3F</text>
<text x="56" y="480.70" class="sq2">:</text>
<text x="477.6" y="480.70" class="sq2">:</text>
<text x="485.3" y="480.70" class="sq2">96</text>
<rect x="63.60" y="483.20" width="24.90" height="7.3" fill="#000"/>
<rect x="88.50" y="483.20" width="4.15" height="7.3" fill="#d0d0d0"/>
<rect x="92.65" y="483.20" width="16.60" height="7.3" fill="#000"/>
<rect x="113.40" y="483.20" width="8.30" height="7.3" fill="#000"/>
<rect x="125.85" y="483.20" width="4.15" height="7.3" fill="#d0d0d0"/>
<rect x="130.00" y="483.20" width="4.15" height="7.3" fill="#a6a6a6"/>
<rect x="134.15" y="483.20" width="4.15" height="7.3" fill="#000"/>
<rect x="138.30" y="483.20" width="4.15" height="7.3" fill="#d0d0d0"/>
<rect x="142.45" y="483.20" width="12.45" height="7.3" fill="#000"/>
<rect x="154.90" y="483.20" width="4.15" height="7.3" fill="#a6a6a6"/>
<rect x="159.05" y="483.20" width="4.15" height="7.3" fill="#d0d0d0"/>
<rect x="163.20" y="483.20" width="8.30" height="7.3" fill="#000"/>
<rect x="171.50" y="483.20" width="4.15" height="7.3" fill="#a6a6a6"/>
<rect x="175.65" y="483.20" width="4.15" height="7.3" fill="#000"/>
<rect x="179.80" y="483.20" width="4.15" height="7.3" fill="#d0d0d0"/>
<rect x="183.95" y="483.20" width="4.15" height="7.3" fill="#000"/>
<rect x="188.10" y="483.20" width="4.15" height="7.3" fill="#a6a6a6"/>
<rect x="196.40" y="483.20" width="20.75" height="7.3" fill="#000"/>
<rect x="221.30" y="483.20" width="4.15" height="7.3" fill="#d0d0d0"/>
<rect x="225.45" y="483.20" width="4.15" height="7.3" fill="#000"/>
<rect x="229.60" y="483.20" width="4.15" height="7.3" fill="#d0d0d0"/>
<rect x="233.75" y="483.20" width="58.10" height="7.3" fill="#000"/>
<rect x="291.85" y="483.20" width="4.15" height="7.3" fill="#d0d0d0"/>
<rect x="296.00" y="483.20" width="20.75" height="7.3" fill="#000"/>
<rect x="316.75" y="483.20" width="4.15" height="7.3" fill="#d0d0d0"/>
<rect x="320.90" y="483.20" width="4.15" height="7.3" fill="#a6a6a6"/>
<rect x="325.05" y="483.20" width="8.30" height="7.3" fill="#d0d0d0"/>
<rect x="333.35" y="483.20" width="4.15" height="7.3" fill="#000"/>
<rect x="337.50" y="483.20" width="4.15" height="7.3" fill="#d0d0d0"/>
<rect x="341.65" y="483.20" width="8.30" height="7.3" fill="#000"/>
<rect x="349.95" y="483.20" width="4.15" height="7.3" fill="#a6a6a6"/>
<rect x="354.10" y="483.20" width="12.45" height="7.3" fill="#000"/>
<rect x="387.30" y="483.20" width="4.15" height="7.3" fill="#a6a6a6"/>
<rect x="437.10" y="483.20" width="8.30" height="7.3" fill="#a6a6a6"/>
<rect x="445.40" y="483.20" width="4.15" height="7.3" fill="#d0d0d0"/>
<rect x="457.85" y="483.20" width="4.15" height="7.3" fill="#a6a6a6"/>
<text x="63.80" y="489.00" class="seq" textLength="410.45" lengthAdjust="spacing"><tspan fill="#fff">KPPFTY</tspan><tspan fill="#111" font-weight="normal">T</tspan><tspan fill="#fff">ELIE</tspan><tspan fill="#111" font-weight="normal">Y</tspan><tspan fill="#fff">AL</tspan><tspan fill="#111" font-weight="normal">KDN</tspan><tspan fill="#fff">G</tspan><tspan fill="#111" font-weight="normal">E</tspan><tspan fill="#fff">LTV</tspan><tspan fill="#111" font-weight="normal">SG</tspan><tspan fill="#fff">IY</tspan><tspan fill="#111" font-weight="normal">Q</tspan><tspan fill="#fff">W</tspan><tspan fill="#111" font-weight="normal">I</tspan><tspan fill="#fff">S</tspan><tspan fill="#111" font-weight="normal">DD</tspan><tspan fill="#fff">FPFYK</tspan><tspan fill="#111" font-weight="normal">SN</tspan><tspan fill="#fff">D</tspan><tspan fill="#111" font-weight="normal">D</tspan><tspan fill="#fff">RWKNSVRHNLSINP</tspan><tspan fill="#111" font-weight="normal">H</tspan><tspan fill="#fff">FRKGN</tspan><tspan fill="#111" font-weight="normal">KAPQ</tspan><tspan fill="#fff">G</tspan><tspan fill="#111" font-weight="normal">A</tspan><tspan fill="#fff">GH</tspan><tspan fill="#111" font-weight="normal">L</tspan><tspan fill="#fff">WTI</tspan><tspan fill="#111" font-weight="normal">SS--RISEANFLAWEHKRQRLDLLFF</tspan></text>
<text x="12" y="489.20" class="nm"><tspan font-style="italic">Aa</tspan>FoxJx</text>
<text x="56" y="489.00" class="sq2">:</text>
<text x="477.6" y="489.00" class="sq2">:</text>
<text x="485.3" y="489.00" class="sq2">96</text>
<rect x="63.60" y="491.50" width="24.90" height="7.3" fill="#000"/>
<rect x="92.65" y="491.50" width="16.60" height="7.3" fill="#000"/>
<rect x="113.40" y="491.50" width="8.30" height="7.3" fill="#000"/>
<rect x="130.00" y="491.50" width="4.15" height="7.3" fill="#d0d0d0"/>
<rect x="134.15" y="491.50" width="4.15" height="7.3" fill="#000"/>
<rect x="138.30" y="491.50" width="4.15" height="7.3" fill="#d0d0d0"/>
<rect x="142.45" y="491.50" width="12.45" height="7.3" fill="#000"/>
<rect x="154.90" y="491.50" width="4.15" height="7.3" fill="#a6a6a6"/>
<rect x="159.05" y="491.50" width="4.15" height="7.3" fill="#d0d0d0"/>
<rect x="163.20" y="491.50" width="8.30" height="7.3" fill="#000"/>
<rect x="171.50" y="491.50" width="4.15" height="7.3" fill="#a6a6a6"/>
<rect x="175.65" y="491.50" width="4.15" height="7.3" fill="#000"/>
<rect x="179.80" y="491.50" width="4.15" height="7.3" fill="#d0d0d0"/>
<rect x="183.95" y="491.50" width="4.15" height="7.3" fill="#000"/>
<rect x="188.10" y="491.50" width="4.15" height="7.3" fill="#a6a6a6"/>
<rect x="196.40" y="491.50" width="20.75" height="7.3" fill="#000"/>
<rect x="217.15" y="491.50" width="4.15" height="7.3" fill="#d0d0d0"/>
<rect x="225.45" y="491.50" width="4.15" height="7.3" fill="#000"/>
<rect x="229.60" y="491.50" width="4.15" height="7.3" fill="#d0d0d0"/>
<rect x="233.75" y="491.50" width="58.10" height="7.3" fill="#000"/>
<rect x="291.85" y="491.50" width="4.15" height="7.3" fill="#d0d0d0"/>
<rect x="296.00" y="491.50" width="20.75" height="7.3" fill="#000"/>
<rect x="316.75" y="491.50" width="4.15" height="7.3" fill="#d0d0d0"/>
<rect x="320.90" y="491.50" width="4.15" height="7.3" fill="#a6a6a6"/>
<rect x="325.05" y="491.50" width="8.30" height="7.3" fill="#d0d0d0"/>
<rect x="333.35" y="491.50" width="4.15" height="7.3" fill="#000"/>
<rect x="337.50" y="491.50" width="4.15" height="7.3" fill="#d0d0d0"/>
<rect x="341.65" y="491.50" width="8.30" height="7.3" fill="#000"/>
<rect x="349.95" y="491.50" width="4.15" height="7.3" fill="#a6a6a6"/>
<rect x="354.10" y="491.50" width="12.45" height="7.3" fill="#000"/>
<rect x="387.30" y="491.50" width="4.15" height="7.3" fill="#a6a6a6"/>
<rect x="441.25" y="491.50" width="4.15" height="7.3" fill="#d0d0d0"/>
<rect x="457.85" y="491.50" width="4.15" height="7.3" fill="#a6a6a6"/>
<text x="63.80" y="497.30" class="seq" textLength="410.45" lengthAdjust="spacing"><tspan fill="#fff">KPPYTY</tspan><tspan fill="#111" font-weight="normal">P</tspan><tspan fill="#fff">ELIE</tspan><tspan fill="#111" font-weight="normal">R</tspan><tspan fill="#fff">AL</tspan><tspan fill="#111" font-weight="normal">R-N</tspan><tspan fill="#fff">G</tspan><tspan fill="#111" font-weight="normal">E</tspan><tspan fill="#fff">LTV</tspan><tspan fill="#111" font-weight="normal">SG</tspan><tspan fill="#fff">IY</tspan><tspan fill="#111" font-weight="normal">Q</tspan><tspan fill="#fff">W</tspan><tspan fill="#111" font-weight="normal">I</tspan><tspan fill="#fff">S</tspan><tspan fill="#111" font-weight="normal">DR</tspan><tspan fill="#fff">FPFYK</tspan><tspan fill="#111" font-weight="normal">AN</tspan><tspan fill="#fff">D</tspan><tspan fill="#111" font-weight="normal">D</tspan><tspan fill="#fff">RWKNSVRHNLSINP</tspan><tspan fill="#111" font-weight="normal">H</tspan><tspan fill="#fff">FRKGA</tspan><tspan fill="#111" font-weight="normal">RAPQ</tspan><tspan fill="#fff">G</tspan><tspan fill="#111" font-weight="normal">A</tspan><tspan fill="#fff">GH</tspan><tspan fill="#111" font-weight="normal">L</tspan><tspan fill="#fff">WTI</tspan><tspan fill="#111" font-weight="normal">AANAIILLPLRNTPMPEEEKAAQPLH</tspan></text>
<text x="12" y="497.50" class="nm"><tspan font-style="italic">Bm</tspan>FoxL2</text>
<text x="56" y="497.30" class="sq2">:</text>
<text x="477.6" y="497.30" class="sq2">:</text>
<text x="485.3" y="497.30" class="sq2">98</text>
<rect x="63.60" y="499.80" width="24.90" height="7.3" fill="#000"/>
<rect x="88.50" y="499.80" width="4.15" height="7.3" fill="#d0d0d0"/>
<rect x="92.65" y="499.80" width="16.60" height="7.3" fill="#000"/>
<rect x="113.40" y="499.80" width="8.30" height="7.3" fill="#000"/>
<rect x="130.00" y="499.80" width="4.15" height="7.3" fill="#d0d0d0"/>
<rect x="134.15" y="499.80" width="4.15" height="7.3" fill="#000"/>
<rect x="138.30" y="499.80" width="4.15" height="7.3" fill="#d0d0d0"/>
<rect x="142.45" y="499.80" width="12.45" height="7.3" fill="#000"/>
<rect x="163.20" y="499.80" width="8.30" height="7.3" fill="#000"/>
<rect x="171.50" y="499.80" width="4.15" height="7.3" fill="#a6a6a6"/>
<rect x="175.65" y="499.80" width="4.15" height="7.3" fill="#000"/>
<rect x="179.80" y="499.80" width="4.15" height="7.3" fill="#d0d0d0"/>
<rect x="183.95" y="499.80" width="4.15" height="7.3" fill="#000"/>
<rect x="188.10" y="499.80" width="4.15" height="7.3" fill="#a6a6a6"/>
<rect x="196.40" y="499.80" width="20.75" height="7.3" fill="#000"/>
<rect x="221.30" y="499.80" width="4.15" height="7.3" fill="#d0d0d0"/>
<rect x="225.45" y="499.80" width="4.15" height="7.3" fill="#000"/>
<rect x="229.60" y="499.80" width="4.15" height="7.3" fill="#d0d0d0"/>
<rect x="233.75" y="499.80" width="58.10" height="7.3" fill="#000"/>
<rect x="291.85" y="499.80" width="4.15" height="7.3" fill="#d0d0d0"/>
<rect x="296.00" y="499.80" width="20.75" height="7.3" fill="#000"/>
<rect x="333.35" y="499.80" width="4.15" height="7.3" fill="#000"/>
<rect x="337.50" y="499.80" width="4.15" height="7.3" fill="#d0d0d0"/>
<rect x="341.65" y="499.80" width="8.30" height="7.3" fill="#000"/>
<rect x="349.95" y="499.80" width="4.15" height="7.3" fill="#a6a6a6"/>
<rect x="354.10" y="499.80" width="12.45" height="7.3" fill="#000"/>
<rect x="387.30" y="499.80" width="4.15" height="7.3" fill="#a6a6a6"/>
<rect x="437.10" y="499.80" width="8.30" height="7.3" fill="#a6a6a6"/>
<rect x="445.40" y="499.80" width="4.15" height="7.3" fill="#d0d0d0"/>
<rect x="457.85" y="499.80" width="4.15" height="7.3" fill="#a6a6a6"/>
<text x="63.80" y="505.60" class="seq" textLength="410.45" lengthAdjust="spacing"><tspan fill="#fff">KPPFTY</tspan><tspan fill="#111" font-weight="normal">T</tspan><tspan fill="#fff">ELIE</tspan><tspan fill="#111" font-weight="normal">Y</tspan><tspan fill="#fff">AL</tspan><tspan fill="#111" font-weight="normal">E-Q</tspan><tspan fill="#fff">G</tspan><tspan fill="#111" font-weight="normal">E</tspan><tspan fill="#fff">LTV</tspan><tspan fill="#111" font-weight="normal">AA</tspan><tspan fill="#fff">IY</tspan><tspan fill="#111" font-weight="normal">Q</tspan><tspan fill="#fff">W</tspan><tspan fill="#111" font-weight="normal">I</tspan><tspan fill="#fff">S</tspan><tspan fill="#111" font-weight="normal">DH</tspan><tspan fill="#fff">FPFYK</tspan><tspan fill="#111" font-weight="normal">SH</tspan><tspan fill="#fff">D</tspan><tspan fill="#111" font-weight="normal">D</tspan><tspan fill="#fff">RWKNSVRHNLSINP</tspan><tspan fill="#111" font-weight="normal">H</tspan><tspan fill="#fff">FRKGR</tspan><tspan fill="#111" font-weight="normal">RSSH</tspan><tspan fill="#fff">G</tspan><tspan fill="#111" font-weight="normal">S</tspan><tspan fill="#fff">GH</tspan><tspan fill="#111" font-weight="normal">L</tspan><tspan fill="#fff">WTI</tspan><tspan fill="#111" font-weight="normal">SS--RISEDNFIAWEHKRQRFIWWFF</tspan></text>
<text x="12" y="505.80" class="nm"><tspan font-style="italic">Ag</tspan>AP012976</text>
<text x="56" y="505.60" class="sq2">:</text>
<text x="477.6" y="505.60" class="sq2">:</text>
<text x="485.3" y="505.60" class="sq2">96</text>
<rect x="63.60" y="508.10" width="24.90" height="7.3" fill="#000"/>
<rect x="92.65" y="508.10" width="16.60" height="7.3" fill="#000"/>
<rect x="113.40" y="508.10" width="8.30" height="7.3" fill="#000"/>
<rect x="125.85" y="508.10" width="4.15" height="7.3" fill="#d0d0d0"/>
<rect x="130.00" y="508.10" width="4.15" height="7.3" fill="#a6a6a6"/>
<rect x="134.15" y="508.10" width="4.15" height="7.3" fill="#000"/>
<rect x="138.30" y="508.10" width="4.15" height="7.3" fill="#d0d0d0"/>
<rect x="142.45" y="508.10" width="12.45" height="7.3" fill="#000"/>
<rect x="163.20" y="508.10" width="8.30" height="7.3" fill="#000"/>
<rect x="171.50" y="508.10" width="4.15" height="7.3" fill="#a6a6a6"/>
<rect x="175.65" y="508.10" width="4.15" height="7.3" fill="#000"/>
<rect x="179.80" y="508.10" width="4.15" height="7.3" fill="#d0d0d0"/>
<rect x="183.95" y="508.10" width="4.15" height="7.3" fill="#000"/>
<rect x="188.10" y="508.10" width="4.15" height="7.3" fill="#a6a6a6"/>
<rect x="196.40" y="508.10" width="20.75" height="7.3" fill="#000"/>
<rect x="217.15" y="508.10" width="4.15" height="7.3" fill="#d0d0d0"/>
<rect x="225.45" y="508.10" width="4.15" height="7.3" fill="#000"/>
<rect x="229.60" y="508.10" width="4.15" height="7.3" fill="#d0d0d0"/>
<rect x="233.75" y="508.10" width="58.10" height="7.3" fill="#000"/>
<rect x="296.00" y="508.10" width="20.75" height="7.3" fill="#000"/>
<rect x="316.75" y="508.10" width="4.15" height="7.3" fill="#d0d0d0"/>
<rect x="320.90" y="508.10" width="4.15" height="7.3" fill="#a6a6a6"/>
<rect x="325.05" y="508.10" width="8.30" height="7.3" fill="#d0d0d0"/>
<rect x="333.35" y="508.10" width="4.15" height="7.3" fill="#000"/>
<rect x="337.50" y="508.10" width="4.15" height="7.3" fill="#d0d0d0"/>
<rect x="341.65" y="508.10" width="8.30" height="7.3" fill="#000"/>
<rect x="349.95" y="508.10" width="4.15" height="7.3" fill="#a6a6a6"/>
<rect x="354.10" y="508.10" width="12.45" height="7.3" fill="#000"/>
<rect x="387.30" y="508.10" width="4.15" height="7.3" fill="#a6a6a6"/>
<rect x="441.25" y="508.10" width="8.30" height="7.3" fill="#d0d0d0"/>
<rect x="457.85" y="508.10" width="4.15" height="7.3" fill="#a6a6a6"/>
<text x="63.80" y="513.90" class="seq" textLength="410.45" lengthAdjust="spacing"><tspan fill="#fff">KPPYTY</tspan><tspan fill="#111" font-weight="normal">P</tspan><tspan fill="#fff">ELIE</tspan><tspan fill="#111" font-weight="normal">R</tspan><tspan fill="#fff">AL</tspan><tspan fill="#111" font-weight="normal">RES</tspan><tspan fill="#fff">G</tspan><tspan fill="#111" font-weight="normal">E</tspan><tspan fill="#fff">LTV</tspan><tspan fill="#111" font-weight="normal">SA</tspan><tspan fill="#fff">IY</tspan><tspan fill="#111" font-weight="normal">Q</tspan><tspan fill="#fff">W</tspan><tspan fill="#111" font-weight="normal">I</tspan><tspan fill="#fff">S</tspan><tspan fill="#111" font-weight="normal">DR</tspan><tspan fill="#fff">FPFYK</tspan><tspan fill="#111" font-weight="normal">AN</tspan><tspan fill="#fff">D</tspan><tspan fill="#111" font-weight="normal">D</tspan><tspan fill="#fff">RWKNSVRHNLSINP</tspan><tspan fill="#111" font-weight="normal">Y</tspan><tspan fill="#fff">FRKGA</tspan><tspan fill="#111" font-weight="normal">RAPQ</tspan><tspan fill="#fff">G</tspan><tspan fill="#111" font-weight="normal">A</tspan><tspan fill="#fff">GH</tspan><tspan fill="#111" font-weight="normal">L</tspan><tspan fill="#fff">WTI</tspan><tspan fill="#111" font-weight="normal">AANAIILLPLR--PDADKKKT-QVVH</tspan></text>
<text x="12" y="514.10" class="nm"><tspan font-style="italic">Pxv</tspan>Ip1L</text>
<text x="56" y="513.90" class="sq2">:</text>
<text x="477.6" y="513.90" class="sq2">:</text>
<text x="485.3" y="513.90" class="sq2">95</text>
<rect x="63.60" y="516.40" width="24.90" height="7.3" fill="#000"/>
<rect x="92.65" y="516.40" width="16.60" height="7.3" fill="#000"/>
<rect x="113.40" y="516.40" width="8.30" height="7.3" fill="#000"/>
<rect x="125.85" y="516.40" width="4.15" height="7.3" fill="#d0d0d0"/>
<rect x="130.00" y="516.40" width="4.15" height="7.3" fill="#a6a6a6"/>
<rect x="134.15" y="516.40" width="4.15" height="7.3" fill="#000"/>
<rect x="138.30" y="516.40" width="4.15" height="7.3" fill="#d0d0d0"/>
<rect x="142.45" y="516.40" width="12.45" height="7.3" fill="#000"/>
<rect x="163.20" y="516.40" width="8.30" height="7.3" fill="#000"/>
<rect x="171.50" y="516.40" width="4.15" height="7.3" fill="#a6a6a6"/>
<rect x="175.65" y="516.40" width="4.15" height="7.3" fill="#000"/>
<rect x="179.80" y="516.40" width="4.15" height="7.3" fill="#d0d0d0"/>
<rect x="183.95" y="516.40" width="4.15" height="7.3" fill="#000"/>
<rect x="188.10" y="516.40" width="4.15" height="7.3" fill="#a6a6a6"/>
<rect x="196.40" y="516.40" width="20.75" height="7.3" fill="#000"/>
<rect x="217.15" y="516.40" width="4.15" height="7.3" fill="#d0d0d0"/>
<rect x="225.45" y="516.40" width="4.15" height="7.3" fill="#000"/>
<rect x="229.60" y="516.40" width="4.15" height="7.3" fill="#d0d0d0"/>
<rect x="233.75" y="516.40" width="58.10" height="7.3" fill="#000"/>
<rect x="296.00" y="516.40" width="20.75" height="7.3" fill="#000"/>
<rect x="316.75" y="516.40" width="4.15" height="7.3" fill="#d0d0d0"/>
<rect x="320.90" y="516.40" width="4.15" height="7.3" fill="#a6a6a6"/>
<rect x="325.05" y="516.40" width="8.30" height="7.3" fill="#d0d0d0"/>
<rect x="333.35" y="516.40" width="4.15" height="7.3" fill="#000"/>
<rect x="337.50" y="516.40" width="4.15" height="7.3" fill="#d0d0d0"/>
<rect x="341.65" y="516.40" width="8.30" height="7.3" fill="#000"/>
<rect x="349.95" y="516.40" width="4.15" height="7.3" fill="#a6a6a6"/>
<rect x="354.10" y="516.40" width="12.45" height="7.3" fill="#000"/>
<rect x="387.30" y="516.40" width="4.15" height="7.3" fill="#a6a6a6"/>
<rect x="441.25" y="516.40" width="8.30" height="7.3" fill="#d0d0d0"/>
<rect x="457.85" y="516.40" width="4.15" height="7.3" fill="#a6a6a6"/>
<text x="63.80" y="522.20" class="seq" textLength="410.45" lengthAdjust="spacing"><tspan fill="#fff">KPPYTY</tspan><tspan fill="#111" font-weight="normal">P</tspan><tspan fill="#fff">ELIE</tspan><tspan fill="#111" font-weight="normal">R</tspan><tspan fill="#fff">AL</tspan><tspan fill="#111" font-weight="normal">RES</tspan><tspan fill="#fff">G</tspan><tspan fill="#111" font-weight="normal">E</tspan><tspan fill="#fff">LTV</tspan><tspan fill="#111" font-weight="normal">SA</tspan><tspan fill="#fff">IY</tspan><tspan fill="#111" font-weight="normal">Q</tspan><tspan fill="#fff">W</tspan><tspan fill="#111" font-weight="normal">I</tspan><tspan fill="#fff">S</tspan><tspan fill="#111" font-weight="normal">DR</tspan><tspan fill="#fff">FPFYK</tspan><tspan fill="#111" font-weight="normal">AN</tspan><tspan fill="#fff">D</tspan><tspan fill="#111" font-weight="normal">D</tspan><tspan fill="#fff">RWKNSVRHNLSINP</tspan><tspan fill="#111" font-weight="normal">Y</tspan><tspan fill="#fff">FRKGA</tspan><tspan fill="#111" font-weight="normal">RAPQ</tspan><tspan fill="#fff">G</tspan><tspan fill="#111" font-weight="normal">A</tspan><tspan fill="#fff">GH</tspan><tspan fill="#111" font-weight="normal">L</tspan><tspan fill="#fff">WTI</tspan><tspan fill="#111" font-weight="normal">AANAIILLPLR--PDADKKKTEQVIH</tspan></text>
<text x="12" y="522.40" class="nm"><tspan font-style="italic">Pm</tspan>HNF3β</text>
<text x="56" y="522.20" class="sq2">:</text>
<text x="477.6" y="522.20" class="sq2">:</text>
<text x="485.3" y="522.20" class="sq2">96</text>
<rect x="63.60" y="524.70" width="24.90" height="7.3" fill="#000"/>
<rect x="92.65" y="524.70" width="16.60" height="7.3" fill="#000"/>
<rect x="113.40" y="524.70" width="8.30" height="7.3" fill="#000"/>
<rect x="125.85" y="524.70" width="4.15" height="7.3" fill="#d0d0d0"/>
<rect x="130.00" y="524.70" width="4.15" height="7.3" fill="#a6a6a6"/>
<rect x="134.15" y="524.70" width="4.15" height="7.3" fill="#000"/>
<rect x="138.30" y="524.70" width="4.15" height="7.3" fill="#d0d0d0"/>
<rect x="142.45" y="524.70" width="12.45" height="7.3" fill="#000"/>
<rect x="154.90" y="524.70" width="4.15" height="7.3" fill="#a6a6a6"/>
<rect x="159.05" y="524.70" width="4.15" height="7.3" fill="#d0d0d0"/>
<rect x="163.20" y="524.70" width="8.30" height="7.3" fill="#000"/>
<rect x="171.50" y="524.70" width="4.15" height="7.3" fill="#a6a6a6"/>
<rect x="175.65" y="524.70" width="4.15" height="7.3" fill="#000"/>
<rect x="179.80" y="524.70" width="4.15" height="7.3" fill="#d0d0d0"/>
<rect x="183.95" y="524.70" width="4.15" height="7.3" fill="#000"/>
<rect x="188.10" y="524.70" width="4.15" height="7.3" fill="#a6a6a6"/>
<rect x="196.40" y="524.70" width="20.75" height="7.3" fill="#000"/>
<rect x="217.15" y="524.70" width="4.15" height="7.3" fill="#d0d0d0"/>
<rect x="225.45" y="524.70" width="4.15" height="7.3" fill="#000"/>
<rect x="229.60" y="524.70" width="4.15" height="7.3" fill="#d0d0d0"/>
<rect x="233.75" y="524.70" width="58.10" height="7.3" fill="#000"/>
<rect x="291.85" y="524.70" width="4.15" height="7.3" fill="#d0d0d0"/>
<rect x="296.00" y="524.70" width="20.75" height="7.3" fill="#000"/>
<rect x="316.75" y="524.70" width="4.15" height="7.3" fill="#d0d0d0"/>
<rect x="320.90" y="524.70" width="4.15" height="7.3" fill="#a6a6a6"/>
<rect x="325.05" y="524.70" width="4.15" height="7.3" fill="#d0d0d0"/>
<rect x="333.35" y="524.70" width="4.15" height="7.3" fill="#000"/>
<rect x="337.50" y="524.70" width="4.15" height="7.3" fill="#d0d0d0"/>
<rect x="341.65" y="524.70" width="8.30" height="7.3" fill="#000"/>
<rect x="349.95" y="524.70" width="4.15" height="7.3" fill="#a6a6a6"/>
<rect x="354.10" y="524.70" width="12.45" height="7.3" fill="#000"/>
<rect x="387.30" y="524.70" width="4.15" height="7.3" fill="#a6a6a6"/>
<rect x="441.25" y="524.70" width="4.15" height="7.3" fill="#d0d0d0"/>
<rect x="457.85" y="524.70" width="4.15" height="7.3" fill="#a6a6a6"/>
<text x="63.80" y="530.50" class="seq" textLength="410.45" lengthAdjust="spacing"><tspan fill="#fff">KPPYTY</tspan><tspan fill="#111" font-weight="normal">P</tspan><tspan fill="#fff">ELIE</tspan><tspan fill="#111" font-weight="normal">R</tspan><tspan fill="#fff">AL</tspan><tspan fill="#111" font-weight="normal">RES</tspan><tspan fill="#fff">G</tspan><tspan fill="#111" font-weight="normal">E</tspan><tspan fill="#fff">LTV</tspan><tspan fill="#111" font-weight="normal">SG</tspan><tspan fill="#fff">IY</tspan><tspan fill="#111" font-weight="normal">Q</tspan><tspan fill="#fff">W</tspan><tspan fill="#111" font-weight="normal">I</tspan><tspan fill="#fff">S</tspan><tspan fill="#111" font-weight="normal">DR</tspan><tspan fill="#fff">FPFYK</tspan><tspan fill="#111" font-weight="normal">AN</tspan><tspan fill="#fff">D</tspan><tspan fill="#111" font-weight="normal">D</tspan><tspan fill="#fff">RWKNSVRHNLSINP</tspan><tspan fill="#111" font-weight="normal">H</tspan><tspan fill="#fff">FRKGA</tspan><tspan fill="#111" font-weight="normal">RASQ</tspan><tspan fill="#fff">G</tspan><tspan fill="#111" font-weight="normal">A</tspan><tspan fill="#fff">GH</tspan><tspan fill="#111" font-weight="normal">L</tspan><tspan fill="#fff">WTI</tspan><tspan fill="#111" font-weight="normal">AANAIILLPQR----REQEKKTQRLE</tspan></text>
<text x="12" y="530.70" class="nm"><tspan font-style="italic">Pr</tspan>FoxE1L</text>
<text x="56" y="530.50" class="sq2">:</text>
<text x="477.6" y="530.50" class="sq2">:</text>
<text x="485.3" y="530.50" class="sq2">94</text>
<rect x="63.60" y="533.00" width="24.90" height="7.3" fill="#000"/>
<rect x="88.50" y="533.00" width="4.15" height="7.3" fill="#d0d0d0"/>
<rect x="92.65" y="533.00" width="16.60" height="7.3" fill="#000"/>
<rect x="113.40" y="533.00" width="8.30" height="7.3" fill="#000"/>
<rect x="125.85" y="533.00" width="4.15" height="7.3" fill="#d0d0d0"/>
<rect x="130.00" y="533.00" width="4.15" height="7.3" fill="#a6a6a6"/>
<rect x="134.15" y="533.00" width="4.15" height="7.3" fill="#000"/>
<rect x="138.30" y="533.00" width="4.15" height="7.3" fill="#d0d0d0"/>
<rect x="142.45" y="533.00" width="12.45" height="7.3" fill="#000"/>
<rect x="154.90" y="533.00" width="4.15" height="7.3" fill="#a6a6a6"/>
<rect x="159.05" y="533.00" width="4.15" height="7.3" fill="#d0d0d0"/>
<rect x="163.20" y="533.00" width="8.30" height="7.3" fill="#000"/>
<rect x="171.50" y="533.00" width="4.15" height="7.3" fill="#a6a6a6"/>
<rect x="175.65" y="533.00" width="4.15" height="7.3" fill="#000"/>
<rect x="179.80" y="533.00" width="4.15" height="7.3" fill="#d0d0d0"/>
<rect x="183.95" y="533.00" width="4.15" height="7.3" fill="#000"/>
<rect x="188.10" y="533.00" width="4.15" height="7.3" fill="#d0d0d0"/>
<rect x="196.40" y="533.00" width="20.75" height="7.3" fill="#000"/>
<rect x="221.30" y="533.00" width="4.15" height="7.3" fill="#d0d0d0"/>
<rect x="225.45" y="533.00" width="4.15" height="7.3" fill="#000"/>
<rect x="229.60" y="533.00" width="4.15" height="7.3" fill="#d0d0d0"/>
<rect x="233.75" y="533.00" width="58.10" height="7.3" fill="#000"/>
<rect x="291.85" y="533.00" width="4.15" height="7.3" fill="#d0d0d0"/>
<rect x="296.00" y="533.00" width="20.75" height="7.3" fill="#000"/>
<rect x="316.75" y="533.00" width="4.15" height="7.3" fill="#d0d0d0"/>
<rect x="320.90" y="533.00" width="4.15" height="7.3" fill="#a6a6a6"/>
<rect x="325.05" y="533.00" width="4.15" height="7.3" fill="#d0d0d0"/>
<rect x="333.35" y="533.00" width="4.15" height="7.3" fill="#000"/>
<rect x="337.50" y="533.00" width="4.15" height="7.3" fill="#d0d0d0"/>
<rect x="341.65" y="533.00" width="8.30" height="7.3" fill="#000"/>
<rect x="349.95" y="533.00" width="4.15" height="7.3" fill="#a6a6a6"/>
<rect x="354.10" y="533.00" width="12.45" height="7.3" fill="#000"/>
<rect x="387.30" y="533.00" width="4.15" height="7.3" fill="#a6a6a6"/>
<rect x="437.10" y="533.00" width="12.45" height="7.3" fill="#d0d0d0"/>
<rect x="457.85" y="533.00" width="4.15" height="7.3" fill="#a6a6a6"/>
<text x="63.80" y="538.80" class="seq" textLength="410.45" lengthAdjust="spacing"><tspan fill="#fff">KPPFTY</tspan><tspan fill="#111" font-weight="normal">T</tspan><tspan fill="#fff">ELIE</tspan><tspan fill="#111" font-weight="normal">R</tspan><tspan fill="#fff">AL</tspan><tspan fill="#111" font-weight="normal">SES</tspan><tspan fill="#fff">G</tspan><tspan fill="#111" font-weight="normal">E</tspan><tspan fill="#fff">LTV</tspan><tspan fill="#111" font-weight="normal">SG</tspan><tspan fill="#fff">IY</tspan><tspan fill="#111" font-weight="normal">Q</tspan><tspan fill="#fff">W</tspan><tspan fill="#111" font-weight="normal">I</tspan><tspan fill="#fff">S</tspan><tspan fill="#111" font-weight="normal">EH</tspan><tspan fill="#fff">FPFYK</tspan><tspan fill="#111" font-weight="normal">QN</tspan><tspan fill="#fff">D</tspan><tspan fill="#111" font-weight="normal">D</tspan><tspan fill="#fff">RWKNSVRHNLSINP</tspan><tspan fill="#111" font-weight="normal">H</tspan><tspan fill="#fff">FRKGS</tspan><tspan fill="#111" font-weight="normal">KAVH</tspan><tspan fill="#fff">G</tspan><tspan fill="#111" font-weight="normal">A</tspan><tspan fill="#fff">GH</tspan><tspan fill="#111" font-weight="normal">L</tspan><tspan fill="#fff">WTI</tspan><tspan fill="#111" font-weight="normal">AQ--KIDKK----TWQIKKQRMQQFI</tspan></text>
<text x="12" y="539.00" class="nm"><tspan font-style="italic">Tc</tspan>FoxN5</text>
<text x="56" y="538.80" class="sq2">:</text>
<text x="477.6" y="538.80" class="sq2">:</text>
<text x="485.3" y="538.80" class="sq2">93</text>
<text x="63.80" y="547.10" class="cons" textLength="302.55" lengthAdjust="spacing">KPP5TY ELIE AL e G LTVs IYqW6Sd 5P55K nD RWKNSVRHNLSINPhFRKG 4a qGaGHlW 6</text>
<text x="143.53" y="464.0" class="ruler" text-anchor="middle">20</text>
<text x="226.53" y="464.0" class="ruler" text-anchor="middle">40</text>
<text x="309.53" y="464.0" class="ruler" text-anchor="middle">60</text>
<text x="392.53" y="464.0" class="ruler" text-anchor="middle">80</text>
</g>
</svg>
</body></html>
